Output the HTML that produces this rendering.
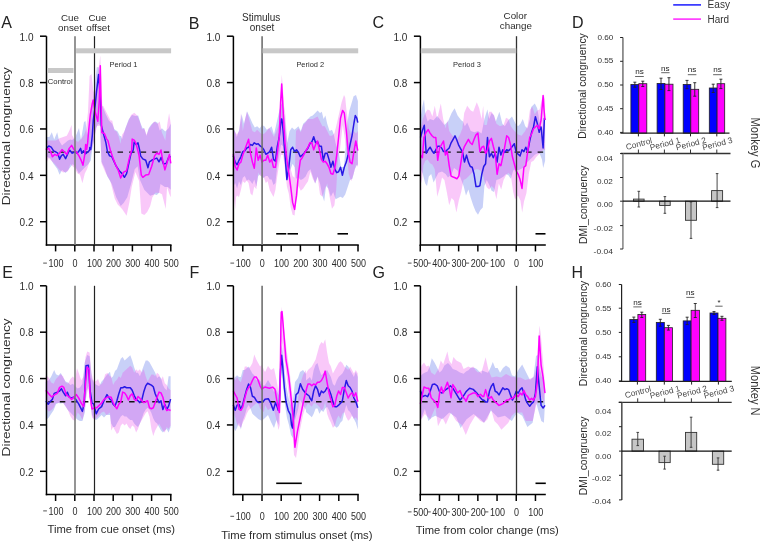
<!DOCTYPE html>
<html><head><meta charset="utf-8"><style>html,body{margin:0;padding:0;background:#fff;}svg{display:block;will-change:transform;}</style></head>
<body><svg width="760" height="542" viewBox="0 0 760 542" font-family='"Liberation Sans", sans-serif'>
<rect width="760" height="542" fill="#fff"/>
<path d="M46.0,138.2 L47.0,137.0 L49.4,137.0 L51.8,132.2 L54.2,139.4 L57.2,132.2 L59.0,140.6 L62.0,145.4 L65.0,143.0 L68.0,140.6 L70.4,139.4 L72.0,140.0 L75.0,138.0 L79.0,128.0 L81.0,140.0 L84.0,122.0 L85.5,121.0 L87.0,135.0 L89.0,128.0 L91.0,110.0 L93.0,100.0 L96.8,67.3 L98.8,67.3 L100.5,90.0 L102.2,105.5 L105.5,113.8 L108.8,120.4 L112.2,123.8 L114.4,129.3 L117.7,131.5 L119.9,135.9 L121.0,135.9 L122.1,139.2 L125.4,128.2 L128.8,119.3 L132.1,114.9 L135.4,116.0 L138.2,115.5 L140.4,122.7 L142.6,128.2 L144.2,128.2 L146.5,135.9 L148.7,128.2 L150.9,124.9 L153.1,122.7 L155.3,121.5 L157.5,122.7 L159.7,130.4 L161.9,128.2 L165.3,131.5 L168.6,128.2 L170.8,123.8 L170.8,189.8 L167.9,186.9 L164.9,186.9 L160.5,183.9 L159.0,192.8 L156.8,195.0 L154.6,194.3 L150.2,195.7 L144.3,189.8 L139.8,179.5 L137.6,166.2 L134.7,169.2 L131.0,183.9 L127.3,197.2 L123.6,203.1 L120.7,206.1 L116.2,197.2 L111.8,183.9 L107.4,176.6 L104.4,167.7 L101.5,161.8 L100.0,125.0 L98.0,124.0 L96.0,128.0 L94.0,140.0 L92.0,150.0 L90.8,160.4 L88.4,164.0 L84.8,167.6 L81.2,171.2 L78.8,173.6 L76.4,168.8 L72.8,164.0 L69.2,168.8 L65.6,173.0 L62.0,170.0 L59.6,174.8 L57.2,168.8 L53.6,164.0 L50.0,158.0 L46.4,156.8 L46.0,158.0Z" fill="rgb(72,98,232)" fill-opacity="0.3"/>
<path d="M46.0,140.6 L47.0,140.6 L51.2,140.6 L56.0,140.6 L59.6,138.2 L63.2,137.0 L66.8,135.8 L69.2,131.0 L71.6,125.0 L72.0,135.0 L75.0,140.0 L78.0,142.0 L80.0,140.0 L82.0,138.0 L84.0,135.0 L86.0,130.0 L88.0,112.0 L89.6,76.0 L91.5,74.0 L93.2,90.0 L95.0,95.0 L97.0,80.0 L100.3,55.6 L101.5,85.0 L102.3,106.0 L103.3,106.1 L105.5,110.5 L108.8,117.1 L110.5,120.4 L112.2,120.4 L114.4,130.4 L116.6,131.5 L118.8,137.0 L120.5,143.7 L122.1,134.8 L124.3,131.5 L127.7,122.7 L131.0,114.9 L134.3,112.7 L137.6,116.0 L139.8,121.5 L142.0,129.3 L144.2,128.2 L146.5,134.8 L148.7,129.3 L150.9,126.0 L154.2,121.5 L157.5,123.8 L159.7,121.5 L161.9,132.6 L165.3,140.4 L167.5,122.7 L169.1,113.3 L170.8,123.8 L170.8,197.2 L169.4,194.3 L167.1,186.9 L165.7,209.0 L164.2,203.1 L162.0,194.3 L159.0,192.8 L155.3,192.8 L152.4,197.2 L150.2,206.1 L147.2,212.0 L144.3,214.9 L141.3,213.5 L139.1,181.0 L135.4,172.1 L131.7,186.9 L129.5,201.7 L126.6,215.7 L125.1,213.5 L122.1,209.0 L117.7,204.6 L114.8,198.7 L110.3,181.0 L105.9,173.6 L101.5,163.3 L100.0,126.0 L97.0,126.0 L95.0,135.0 L93.0,145.0 L90.0,155.0 L89.6,161.6 L87.2,168.8 L84.8,173.6 L82.4,183.2 L80.0,174.8 L77.6,173.6 L74.0,167.6 L70.4,164.0 L68.0,171.2 L63.2,172.4 L59.6,170.0 L54.8,164.0 L51.2,160.4 L48.8,158.0 L46.4,162.8 L46.0,164.0Z" fill="rgb(235,72,235)" fill-opacity="0.3"/>
<line x1="46.50" y1="152.15" x2="170.80" y2="152.15" stroke="#111" stroke-width="1.4" stroke-dasharray="5.5,6.05" stroke-dashoffset="-1.75"/>
<path d="M46.0,148.6 L46.4,148.4 L48.8,146.0 L51.2,147.2 L53.6,150.8 L56.0,152.0 L57.8,153.2 L59.6,159.2 L61.4,155.6 L63.2,154.4 L65.6,158.6 L68.0,153.2 L69.8,150.2 L72.2,153.2 L74.6,152.0 L77.0,153.2 L78.8,151.4 L80.6,148.4 L81.8,153.2 L83.6,150.8 L85.4,153.8 L87.8,152.0 L89.6,150.2 L89.8,147.5 L90.8,149.5 L92.3,135.3 L93.3,120.1 L94.7,110.0 L96.5,92.0 L98.6,74.4 L99.8,90.0 L100.8,110.0 L101.3,125.4 L103.4,133.5 L105.9,142.6 L107.4,151.5 L109.6,155.9 L111.8,156.6 L116.2,166.2 L119.2,170.7 L122.1,173.6 L124.4,177.3 L126.6,173.6 L128.8,163.3 L131.0,153.7 L133.2,150.0 L134.2,141.9 L136.1,144.7 L138.0,142.8 L139.9,151.1 L140.6,155.9 L142.8,158.9 L145.7,160.3 L148.0,167.7 L149.4,161.8 L151.7,160.3 L154.6,158.9 L156.8,158.1 L159.0,161.8 L161.2,157.4 L163.5,164.0 L166.4,163.3 L168.6,157.4 L170.8,156.6" fill="none" stroke="#2818e6" stroke-width="1.5" stroke-linejoin="round"/>
<path d="M46.0,150.2 L46.4,149.6 L48.8,148.4 L51.2,153.2 L52.4,156.8 L54.8,154.4 L57.2,155.6 L59.6,153.2 L62.0,149.6 L64.4,152.0 L66.8,154.4 L69.2,148.4 L71.6,145.4 L74.0,149.6 L76.4,152.0 L78.8,155.6 L81.2,160.4 L83.0,165.2 L84.8,154.4 L85.7,144.4 L86.7,149.5 L87.7,142.4 L88.7,130.2 L90.3,115.0 L92.2,104.0 L93.2,100.0 L95.2,112.0 L97.8,121.3 L99.3,100.0 L100.3,65.7 L101.0,100.0 L101.8,132.5 L104.4,133.5 L106.4,138.6 L107.9,140.6 L110.3,150.0 L113.3,158.9 L116.2,166.2 L118.4,170.7 L120.7,178.0 L123.6,172.1 L126.6,170.7 L129.5,157.4 L131.7,150.0 L132.2,139.1 L134.2,140.1 L136.1,143.7 L138.0,151.1 L139.1,155.9 L141.3,175.1 L142.8,177.3 L145.7,175.1 L148.7,174.4 L151.7,166.2 L154.6,155.9 L156.8,153.0 L159.0,154.4 L161.0,150.0 L162.7,160.3 L164.9,169.9 L167.1,162.5 L169.4,154.4 L170.8,163.3" fill="none" stroke="#ff00ff" stroke-width="1.5" stroke-linejoin="round"/>
<line x1="46.50" y1="36.20" x2="46.50" y2="245.66" stroke="#000" stroke-width="1.5" />
<line x1="45.75" y1="244.91" x2="171.55" y2="244.91" stroke="#000" stroke-width="1.5" />
<line x1="40.00" y1="36.20" x2="46.50" y2="36.20" stroke="#000" stroke-width="1.5" />
<text x="33.50" y="40.50" font-size="10" text-anchor="end" fill="#2c2c2c" >1.0</text>
<line x1="40.00" y1="82.58" x2="46.50" y2="82.58" stroke="#000" stroke-width="1.5" />
<text x="33.50" y="86.88" font-size="10" text-anchor="end" fill="#2c2c2c" >0.8</text>
<line x1="40.00" y1="128.96" x2="46.50" y2="128.96" stroke="#000" stroke-width="1.5" />
<text x="33.50" y="133.26" font-size="10" text-anchor="end" fill="#2c2c2c" >0.6</text>
<line x1="40.00" y1="175.34" x2="46.50" y2="175.34" stroke="#000" stroke-width="1.5" />
<text x="33.50" y="179.64" font-size="10" text-anchor="end" fill="#2c2c2c" >0.4</text>
<line x1="40.00" y1="221.72" x2="46.50" y2="221.72" stroke="#000" stroke-width="1.5" />
<text x="33.50" y="226.02" font-size="10" text-anchor="end" fill="#2c2c2c" >0.2</text>
<line x1="55.60" y1="244.91" x2="55.60" y2="251.41" stroke="#000" stroke-width="1.5" />
<line x1="74.80" y1="244.91" x2="74.80" y2="251.41" stroke="#000" stroke-width="1.5" />
<line x1="94.00" y1="244.91" x2="94.00" y2="251.41" stroke="#000" stroke-width="1.5" />
<line x1="113.20" y1="244.91" x2="113.20" y2="251.41" stroke="#000" stroke-width="1.5" />
<line x1="132.40" y1="244.91" x2="132.40" y2="251.41" stroke="#000" stroke-width="1.5" />
<line x1="151.60" y1="244.91" x2="151.60" y2="251.41" stroke="#000" stroke-width="1.5" />
<line x1="170.80" y1="244.91" x2="170.80" y2="251.41" stroke="#000" stroke-width="1.5" />
<path d="M233.2,131.0 L234.4,129.8 L236.8,137.0 L239.2,129.8 L241.6,114.2 L244.0,123.8 L247.0,111.2 L250.0,117.8 L252.4,123.2 L254.8,127.4 L257.2,126.2 L259.6,128.6 L262.0,125.0 L264.4,126.2 L266.8,129.8 L269.2,128.6 L271.6,126.2 L274.0,134.6 L276.4,123.8 L278.8,113.0 L280.6,105.8 L282.4,102.2 L284.8,119.0 L287.2,143.0 L289.6,131.0 L292.0,127.4 L294.4,129.8 L296.0,128.6 L298.4,126.2 L300.8,131.0 L303.2,123.8 L305.6,121.4 L308.0,119.0 L310.4,116.6 L312.8,115.4 L315.2,113.0 L317.6,110.6 L320.0,113.0 L321.8,111.8 L323.6,119.0 L325.4,115.4 L327.2,123.8 L329.6,131.0 L332.0,129.8 L333.8,134.6 L335.6,143.0 L337.4,149.0 L339.2,155.0 L341.0,167.0 L344.0,167.0 L345.8,143.0 L347.6,121.4 L349.4,110.6 L351.2,104.6 L353.6,96.2 L356.0,95.0 L357.9,101.0 L357.9,165.6 L357.2,164.4 L354.8,169.2 L352.4,178.8 L350.0,180.0 L347.6,187.2 L345.2,194.4 L342.8,198.0 L340.4,196.8 L338.0,198.0 L335.6,199.2 L333.2,192.0 L330.8,196.8 L328.4,188.4 L326.0,186.0 L324.2,201.6 L322.4,195.6 L320.0,183.6 L317.6,176.4 L315.2,183.6 L312.8,176.4 L310.4,169.2 L308.0,171.6 L305.6,176.4 L303.2,178.8 L300.8,180.0 L298.4,177.6 L296.0,178.8 L294.6,167.3 L292.6,163.8 L290.7,169.1 L288.8,172.6 L286.9,177.8 L285.0,160.3 L283.1,146.3 L281.1,144.5 L279.2,155.1 L277.3,165.6 L275.4,183.1 L273.5,184.9 L271.6,179.6 L269.7,179.6 L267.7,176.1 L265.8,176.1 L263.9,177.8 L262.0,177.8 L260.1,174.3 L258.2,176.1 L256.3,186.6 L254.3,179.6 L252.4,184.0 L250.5,181.3 L248.6,179.6 L246.7,180.5 L244.8,176.1 L242.8,177.8 L240.9,184.9 L239.0,181.3 L237.1,188.4 L235.2,183.1 L233.3,186.6Z" fill="rgb(72,98,232)" fill-opacity="0.3"/>
<path d="M233.2,132.2 L234.4,131.0 L236.8,134.6 L239.2,131.0 L241.0,113.0 L242.8,131.0 L245.2,119.0 L247.0,111.8 L250.0,122.6 L252.4,131.0 L254.8,132.2 L257.2,129.8 L259.6,132.2 L262.0,134.6 L264.4,133.4 L266.8,131.0 L269.2,127.4 L271.6,132.2 L274.0,137.0 L276.4,131.0 L278.8,125.0 L280.0,107.0 L280.8,95.0 L281.7,74.4 L282.7,84.9 L284.0,106.0 L285.0,111.2 L286.9,135.8 L288.8,155.1 L290.7,169.1 L292.6,176.1 L294.6,177.8 L296.0,131.0 L298.4,128.6 L300.8,132.2 L303.2,125.0 L305.6,122.6 L308.0,119.0 L310.4,119.0 L312.8,119.0 L315.2,117.8 L317.6,116.6 L320.0,121.4 L322.4,126.2 L324.8,126.2 L327.2,131.0 L329.6,135.8 L332.0,135.8 L334.4,133.4 L336.8,123.8 L339.2,113.0 L341.6,102.2 L344.0,95.0 L345.2,97.4 L346.4,109.4 L348.8,128.6 L351.2,134.6 L353.6,131.0 L356.0,133.4 L357.9,131.0 L357.9,166.8 L356.0,164.4 L353.6,174.0 L351.2,181.2 L348.8,174.0 L347.6,162.0 L346.4,149.0 L344.0,133.4 L342.8,125.0 L341.6,134.6 L339.8,151.4 L338.6,154.8 L337.4,168.0 L336.2,189.6 L334.4,205.2 L332.0,208.8 L329.6,196.8 L327.2,183.6 L324.8,189.6 L322.4,196.8 L320.0,194.4 L317.6,176.4 L315.2,183.6 L312.8,178.8 L310.4,171.6 L308.0,181.2 L305.6,184.8 L303.2,188.4 L300.8,190.8 L298.4,186.0 L297.2,198.0 L296.0,200.4 L294.6,215.5 L292.6,214.7 L290.7,207.6 L288.8,193.6 L286.9,186.6 L285.0,169.1 L283.1,155.1 L281.1,155.1 L279.2,163.8 L277.3,176.1 L275.4,190.1 L273.5,197.1 L271.6,193.6 L269.7,190.1 L267.7,181.3 L265.8,183.1 L263.9,177.8 L262.0,176.1 L260.1,176.1 L258.2,172.6 L256.3,189.2 L254.3,186.6 L252.4,195.4 L250.5,193.6 L248.6,183.1 L246.7,180.5 L244.8,183.1 L242.8,181.3 L240.9,190.1 L239.0,197.1 L237.1,195.4 L236.1,197.1 L235.2,209.4 L234.2,200.6 L233.3,193.6Z" fill="rgb(235,72,235)" fill-opacity="0.3"/>
<line x1="233.40" y1="152.15" x2="358.00" y2="152.15" stroke="#111" stroke-width="1.4" stroke-dasharray="5.5,6.05" stroke-dashoffset="-1.75"/>
<path d="M233.3,155.9 L235.2,162.1 L237.1,164.7 L239.0,160.3 L240.9,156.8 L242.8,151.6 L244.8,150.7 L246.7,148.0 L248.6,147.2 L250.5,144.5 L252.4,145.4 L254.3,142.8 L256.3,144.2 L258.2,143.7 L260.1,145.9 L262.0,147.2 L263.9,149.8 L265.8,154.2 L267.7,153.3 L269.7,151.6 L271.6,147.2 L273.5,159.4 L275.4,161.2 L277.3,146.3 L279.2,137.5 L281.1,119.1 L281.9,119.1 L283.1,130.5 L285.0,155.1 L286.9,179.6 L288.8,167.3 L290.7,149.8 L292.6,147.2 L294.6,151.6 L296.5,149.8 L298.4,152.4 L300.3,156.8 L302.2,155.1 L304.1,153.3 L306.0,150.7 L308.0,148.0 L309.9,143.7 L311.8,141.9 L313.7,136.7 L315.6,142.8 L317.5,141.9 L319.4,146.3 L321.4,146.3 L323.3,160.3 L325.2,153.3 L327.1,153.3 L329.0,159.4 L330.9,167.3 L332.9,161.2 L334.8,169.1 L336.7,172.6 L338.6,171.7 L340.5,167.3 L342.4,175.2 L344.3,167.3 L346.3,162.1 L348.2,154.2 L350.1,144.5 L352.0,135.8 L353.9,123.5 L355.3,115.6 L356.8,118.2 L357.8,122.6" fill="none" stroke="#2818e6" stroke-width="1.5" stroke-linejoin="round"/>
<path d="M233.3,154.2 L235.2,166.5 L237.1,170.0 L239.0,163.8 L240.9,162.1 L242.8,155.1 L244.8,149.8 L246.7,144.5 L248.6,139.3 L250.5,153.3 L252.4,162.1 L254.3,168.2 L256.3,148.0 L258.2,160.3 L260.1,155.1 L262.0,162.1 L263.9,160.3 L265.8,160.3 L267.7,155.1 L269.7,162.1 L271.6,159.4 L273.5,167.3 L275.4,167.3 L277.3,153.3 L279.2,137.5 L280.6,102.5 L281.7,84.1 L282.7,102.5 L284.0,127.0 L285.0,142.8 L286.9,160.3 L288.8,172.6 L290.7,186.6 L292.6,202.4 L294.6,209.4 L296.5,195.4 L298.4,174.3 L300.3,160.3 L302.2,157.7 L304.1,154.2 L306.0,150.7 L308.0,147.2 L309.9,142.8 L311.8,142.8 L313.7,149.8 L315.6,144.5 L317.5,141.0 L319.4,149.8 L321.4,159.4 L323.3,162.1 L325.2,161.2 L327.1,163.8 L329.0,167.3 L330.9,173.5 L332.9,174.3 L334.8,168.2 L336.7,155.1 L338.6,137.5 L340.5,118.2 L342.6,110.4 L344.3,113.0 L346.3,130.5 L348.2,151.6 L350.1,162.1 L352.0,163.8 L353.9,151.6 L355.8,141.0 L357.8,150.7" fill="none" stroke="#ff00ff" stroke-width="1.5" stroke-linejoin="round"/>
<line x1="233.40" y1="36.20" x2="233.40" y2="245.66" stroke="#000" stroke-width="1.5" />
<line x1="232.65" y1="244.91" x2="358.75" y2="244.91" stroke="#000" stroke-width="1.5" />
<line x1="226.90" y1="36.20" x2="233.40" y2="36.20" stroke="#000" stroke-width="1.5" />
<text x="220.40" y="40.50" font-size="10" text-anchor="end" fill="#2c2c2c" >1.0</text>
<line x1="226.90" y1="82.58" x2="233.40" y2="82.58" stroke="#000" stroke-width="1.5" />
<text x="220.40" y="86.88" font-size="10" text-anchor="end" fill="#2c2c2c" >0.8</text>
<line x1="226.90" y1="128.96" x2="233.40" y2="128.96" stroke="#000" stroke-width="1.5" />
<text x="220.40" y="133.26" font-size="10" text-anchor="end" fill="#2c2c2c" >0.6</text>
<line x1="226.90" y1="175.34" x2="233.40" y2="175.34" stroke="#000" stroke-width="1.5" />
<text x="220.40" y="179.64" font-size="10" text-anchor="end" fill="#2c2c2c" >0.4</text>
<line x1="226.90" y1="221.72" x2="233.40" y2="221.72" stroke="#000" stroke-width="1.5" />
<text x="220.40" y="226.02" font-size="10" text-anchor="end" fill="#2c2c2c" >0.2</text>
<line x1="242.80" y1="244.91" x2="242.80" y2="251.41" stroke="#000" stroke-width="1.5" />
<line x1="262.00" y1="244.91" x2="262.00" y2="251.41" stroke="#000" stroke-width="1.5" />
<line x1="281.20" y1="244.91" x2="281.20" y2="251.41" stroke="#000" stroke-width="1.5" />
<line x1="300.40" y1="244.91" x2="300.40" y2="251.41" stroke="#000" stroke-width="1.5" />
<line x1="319.60" y1="244.91" x2="319.60" y2="251.41" stroke="#000" stroke-width="1.5" />
<line x1="338.80" y1="244.91" x2="338.80" y2="251.41" stroke="#000" stroke-width="1.5" />
<line x1="358.00" y1="244.91" x2="358.00" y2="251.41" stroke="#000" stroke-width="1.5" />
<path d="M420.4,119.0 L422.2,107.0 L424.0,99.2 L425.2,113.0 L427.6,121.4 L430.0,119.0 L433.6,120.2 L437.2,116.0 L440.8,120.2 L444.4,125.0 L448.0,121.4 L451.6,113.0 L454.6,108.2 L457.6,115.4 L461.2,120.2 L463.0,121.4 L464.8,126.2 L467.2,122.6 L470.8,131.0 L474.4,132.2 L478.0,131.0 L481.6,133.4 L484.4,119.0 L487.4,109.4 L489.2,119.0 L491.6,113.0 L494.0,115.4 L495.8,121.4 L499.4,111.8 L502.4,123.8 L504.8,126.2 L508.4,120.2 L512.0,116.6 L515.6,123.8 L518.0,126.2 L520.4,123.8 L522.8,119.0 L525.2,126.2 L527.6,128.6 L530.0,119.0 L531.2,107.0 L534.8,103.4 L537.2,108.2 L539.6,121.4 L542.0,131.0 L544.4,119.0 L545.1,121.4 L545.1,160.8 L543.2,168.0 L542.0,159.6 L539.6,153.6 L537.2,153.6 L534.8,154.8 L532.4,157.2 L530.0,159.6 L527.6,162.0 L525.2,165.6 L522.8,168.0 L520.4,169.2 L518.0,170.4 L515.6,169.2 L513.2,170.4 L510.8,178.8 L508.4,175.2 L506.0,174.0 L503.6,176.4 L500.0,178.8 L496.4,180.0 L494.0,192.0 L491.6,190.8 L489.2,184.8 L486.8,180.0 L484.4,186.0 L482.8,207.6 L480.4,210.0 L478.0,214.8 L475.6,211.2 L473.2,205.2 L470.8,198.0 L468.4,189.6 L466.0,195.6 L463.6,186.0 L460.0,176.4 L457.6,170.4 L454.0,168.0 L451.6,174.0 L448.0,177.6 L445.6,174.0 L442.0,171.6 L438.4,172.8 L436.0,177.6 L433.6,182.4 L431.2,174.0 L428.8,176.4 L427.0,186.0 L425.2,183.6 L422.8,174.0 L420.4,168.0Z" fill="rgb(72,98,232)" fill-opacity="0.3"/>
<path d="M420.4,131.0 L422.8,119.0 L425.2,113.0 L427.6,109.4 L430.0,110.6 L432.4,116.6 L434.8,105.8 L437.2,119.0 L440.8,103.4 L443.2,119.0 L445.6,128.6 L447.4,120.2 L449.2,131.0 L451.6,134.6 L456.4,140.6 L460.0,134.6 L462.4,128.6 L464.2,113.0 L467.2,105.8 L470.8,110.6 L473.2,111.8 L476.8,102.2 L479.2,108.2 L481.6,119.0 L483.2,105.8 L484.4,125.0 L486.8,125.0 L489.2,111.8 L491.6,111.8 L494.0,115.4 L496.4,123.8 L500.0,126.2 L503.6,125.0 L506.0,117.8 L508.4,119.0 L510.8,126.2 L514.4,131.0 L518.0,134.6 L521.6,135.8 L525.2,131.0 L527.6,126.2 L530.0,109.4 L532.4,107.0 L534.8,114.2 L537.2,110.6 L539.6,109.4 L542.0,98.6 L543.8,95.0 L545.1,99.8 L545.1,150.0 L543.2,150.0 L540.8,152.4 L538.4,154.8 L536.0,157.2 L533.6,160.8 L531.2,162.0 L528.8,174.0 L526.4,193.2 L524.0,201.6 L522.2,212.4 L520.4,200.4 L518.0,195.6 L515.0,199.2 L513.2,192.0 L510.8,175.2 L508.4,172.8 L506.0,175.2 L503.6,180.0 L501.2,189.6 L498.8,183.6 L496.4,199.2 L494.0,188.4 L491.6,186.0 L489.2,189.6 L486.8,187.2 L484.4,181.2 L482.8,174.0 L480.4,170.4 L478.0,169.2 L475.6,169.2 L473.2,171.6 L470.8,174.0 L468.4,176.4 L466.0,178.8 L463.6,180.0 L461.2,192.0 L458.8,200.4 L456.4,212.4 L454.0,200.4 L451.6,198.0 L449.2,205.2 L446.8,192.0 L444.4,180.0 L442.0,177.6 L439.6,188.4 L437.2,196.8 L434.8,169.2 L432.4,164.4 L430.0,163.2 L427.6,159.6 L425.2,160.8 L423.4,165.6 L421.6,183.6 L420.4,174.0Z" fill="rgb(235,72,235)" fill-opacity="0.3"/>
<line x1="420.40" y1="152.15" x2="545.05" y2="152.15" stroke="#111" stroke-width="1.4" stroke-dasharray="5.5,6.05" stroke-dashoffset="-1.75"/>
<path d="M420.5,137.5 L422.4,130.5 L424.3,125.3 L426.2,153.3 L428.2,149.8 L430.1,147.2 L432.0,150.7 L433.9,153.3 L435.8,149.8 L437.7,146.3 L439.6,146.3 L441.6,148.0 L443.5,151.6 L445.4,151.6 L447.3,149.8 L449.2,148.0 L451.1,142.8 L453.1,139.3 L455.0,135.8 L456.9,140.2 L458.8,145.4 L460.7,148.9 L462.6,152.4 L464.5,162.1 L466.5,155.1 L468.4,162.1 L470.3,166.5 L472.2,167.3 L474.1,174.3 L476.0,186.6 L477.9,186.6 L479.9,185.7 L481.8,174.3 L483.7,166.5 L485.6,163.8 L487.5,137.5 L489.4,156.8 L491.4,153.3 L493.3,157.7 L495.2,153.3 L497.1,162.1 L499.0,147.2 L500.9,155.1 L502.8,149.8 L504.8,152.4 L506.7,149.8 L508.6,150.7 L510.5,148.9 L512.4,146.3 L514.3,143.7 L516.2,152.4 L518.2,154.2 L520.1,155.9 L522.0,149.8 L523.9,151.6 L525.8,147.2 L527.7,151.6 L529.7,141.0 L531.6,132.3 L533.5,127.0 L535.4,116.7 L537.3,123.5 L539.2,132.3 L540.2,127.0 L541.1,127.0 L543.1,148.0 L544.4,118.2 L545.0,120.0" fill="none" stroke="#2818e6" stroke-width="1.5" stroke-linejoin="round"/>
<path d="M420.5,155.1 L422.4,157.7 L423.9,137.5 L426.2,132.3 L428.2,129.6 L430.1,133.1 L432.0,135.8 L433.9,137.5 L435.8,137.5 L437.7,160.3 L439.6,148.0 L441.6,144.5 L443.5,141.0 L445.4,155.1 L447.3,151.6 L449.2,165.6 L451.1,176.1 L453.1,177.0 L455.0,177.8 L456.9,178.7 L458.8,176.1 L460.7,163.8 L462.6,151.6 L464.5,146.3 L466.5,142.8 L468.4,139.3 L470.3,142.8 L472.2,144.5 L474.1,139.3 L476.0,134.9 L477.9,133.1 L479.9,151.6 L481.8,147.2 L483.7,146.3 L485.6,153.3 L487.5,149.8 L489.4,141.0 L491.4,138.4 L493.3,146.3 L495.2,153.3 L497.1,174.3 L499.0,163.8 L500.9,165.6 L502.8,156.8 L504.8,146.3 L506.7,135.8 L508.6,137.5 L510.5,144.5 L512.4,156.8 L514.3,163.8 L516.2,170.8 L518.2,174.3 L520.1,179.6 L522.0,188.4 L523.9,167.3 L525.8,165.6 L527.7,151.6 L529.7,137.5 L531.6,134.0 L533.5,128.8 L535.4,127.0 L537.3,125.3 L539.2,128.8 L541.1,120.0 L543.1,95.6 L544.0,109.5 L545.0,120.0" fill="none" stroke="#ff00ff" stroke-width="1.5" stroke-linejoin="round"/>
<line x1="420.40" y1="36.20" x2="420.40" y2="245.66" stroke="#000" stroke-width="1.5" />
<line x1="419.65" y1="244.91" x2="545.80" y2="244.91" stroke="#000" stroke-width="1.5" />
<line x1="413.90" y1="36.20" x2="420.40" y2="36.20" stroke="#000" stroke-width="1.5" />
<text x="407.40" y="40.50" font-size="10" text-anchor="end" fill="#2c2c2c" >1.0</text>
<line x1="413.90" y1="82.58" x2="420.40" y2="82.58" stroke="#000" stroke-width="1.5" />
<text x="407.40" y="86.88" font-size="10" text-anchor="end" fill="#2c2c2c" >0.8</text>
<line x1="413.90" y1="128.96" x2="420.40" y2="128.96" stroke="#000" stroke-width="1.5" />
<text x="407.40" y="133.26" font-size="10" text-anchor="end" fill="#2c2c2c" >0.6</text>
<line x1="413.90" y1="175.34" x2="420.40" y2="175.34" stroke="#000" stroke-width="1.5" />
<text x="407.40" y="179.64" font-size="10" text-anchor="end" fill="#2c2c2c" >0.4</text>
<line x1="413.90" y1="221.72" x2="420.40" y2="221.72" stroke="#000" stroke-width="1.5" />
<text x="407.40" y="226.02" font-size="10" text-anchor="end" fill="#2c2c2c" >0.2</text>
<line x1="420.25" y1="244.91" x2="420.25" y2="251.41" stroke="#000" stroke-width="1.5" />
<line x1="439.45" y1="244.91" x2="439.45" y2="251.41" stroke="#000" stroke-width="1.5" />
<line x1="458.65" y1="244.91" x2="458.65" y2="251.41" stroke="#000" stroke-width="1.5" />
<line x1="477.85" y1="244.91" x2="477.85" y2="251.41" stroke="#000" stroke-width="1.5" />
<line x1="497.05" y1="244.91" x2="497.05" y2="251.41" stroke="#000" stroke-width="1.5" />
<line x1="516.25" y1="244.91" x2="516.25" y2="251.41" stroke="#000" stroke-width="1.5" />
<line x1="535.45" y1="244.91" x2="535.45" y2="251.41" stroke="#000" stroke-width="1.5" />
<path d="M45.7,382.0 L46.4,381.4 L48.8,380.2 L51.2,376.6 L54.2,370.0 L56.0,374.2 L58.4,375.4 L60.8,373.0 L63.2,377.8 L65.6,381.4 L68.0,382.6 L70.4,385.0 L72.8,383.8 L75.2,386.2 L77.6,388.6 L80.0,387.4 L82.4,383.8 L84.8,362.2 L87.2,355.0 L89.6,356.2 L92.0,379.0 L94.4,383.8 L96.8,385.0 L99.2,386.2 L101.6,381.4 L104.0,379.0 L106.4,375.4 L110.0,371.8 L111.2,378.0 L113.1,376.3 L115.0,371.0 L116.9,369.3 L118.8,364.0 L120.8,358.8 L122.7,357.0 L124.6,360.5 L126.5,358.8 L128.4,357.0 L130.3,355.3 L132.2,360.5 L134.2,367.5 L136.1,372.8 L138.0,372.8 L139.9,376.3 L141.8,371.0 L143.7,365.8 L145.7,360.5 L147.6,360.5 L149.5,362.3 L151.4,365.8 L153.3,369.3 L155.2,372.8 L157.1,378.0 L159.1,376.3 L161.0,378.0 L162.9,385.1 L164.8,388.6 L166.7,390.3 L168.6,376.3 L170.6,376.3 L170.6,427.1 L168.6,432.4 L166.7,428.9 L164.8,430.6 L162.9,432.4 L161.0,430.6 L159.1,427.1 L157.1,423.6 L155.2,421.9 L153.3,418.4 L151.4,413.1 L149.5,409.6 L147.6,407.8 L145.7,409.6 L143.7,413.1 L141.8,418.4 L139.9,423.6 L138.0,427.1 L136.1,425.4 L134.2,423.6 L132.2,420.1 L130.3,420.1 L128.4,418.4 L126.5,416.6 L124.6,416.6 L122.7,414.9 L120.8,416.6 L118.8,420.1 L116.9,423.6 L115.0,427.1 L113.1,427.1 L111.2,423.6 L110.0,415.0 L106.4,415.0 L104.0,417.4 L101.6,415.0 L99.2,417.4 L96.8,419.8 L94.4,419.8 L92.0,415.0 L90.2,400.6 L88.4,386.2 L86.6,391.0 L84.8,412.6 L82.4,421.0 L80.0,421.0 L77.6,419.8 L75.2,417.4 L72.8,415.0 L70.4,412.6 L68.0,410.2 L65.6,406.6 L63.2,403.0 L60.8,403.6 L58.4,403.0 L56.0,404.2 L53.6,410.2 L51.2,413.8 L48.8,417.4 L46.4,419.8 L45.7,419.8Z" fill="rgb(72,98,232)" fill-opacity="0.3"/>
<path d="M45.7,376.0 L46.4,375.4 L48.8,377.8 L51.2,382.6 L53.6,383.8 L56.0,379.0 L58.4,376.6 L60.8,374.2 L63.2,376.6 L65.6,382.6 L68.0,383.8 L70.4,379.0 L72.8,376.6 L75.2,379.0 L77.0,368.2 L78.8,373.0 L81.2,380.2 L83.6,376.6 L85.4,357.4 L87.2,351.4 L89.6,352.6 L91.4,373.0 L93.2,380.2 L95.6,381.4 L98.0,379.0 L100.4,385.0 L102.8,382.6 L105.2,374.2 L107.6,373.0 L110.0,376.6 L111.2,376.3 L113.1,385.1 L115.0,381.6 L116.9,379.8 L118.8,376.3 L120.8,378.0 L122.7,372.8 L124.6,371.0 L126.5,369.3 L128.4,367.5 L130.3,365.8 L132.2,367.5 L134.2,372.8 L136.1,369.3 L138.0,371.0 L139.9,369.3 L141.8,372.8 L143.7,369.3 L145.7,376.3 L147.6,381.6 L149.5,378.0 L151.4,374.5 L153.3,374.5 L155.2,376.3 L157.1,372.8 L159.1,374.5 L161.0,379.8 L162.9,376.3 L164.8,383.3 L166.7,385.1 L168.6,388.6 L170.6,390.3 L170.6,425.4 L168.6,428.9 L166.7,427.1 L164.8,432.4 L162.9,430.6 L161.0,427.1 L159.1,423.6 L157.1,427.1 L155.2,430.6 L153.3,435.9 L151.4,428.9 L149.5,416.6 L147.6,411.3 L145.7,413.1 L143.7,416.6 L141.8,420.1 L139.9,423.6 L138.0,428.9 L136.1,432.4 L134.2,427.1 L132.2,425.4 L130.3,428.9 L128.4,427.1 L126.5,423.6 L124.6,425.4 L122.7,423.6 L120.8,425.4 L118.8,432.4 L116.9,434.1 L115.0,430.6 L113.1,427.1 L111.2,430.6 L110.0,412.6 L106.4,415.0 L104.0,411.4 L101.6,412.6 L99.2,415.0 L96.8,417.4 L94.4,419.8 L92.0,417.4 L90.2,403.0 L88.4,388.6 L86.6,394.6 L84.8,410.2 L82.4,419.8 L80.0,415.0 L77.6,412.6 L75.2,421.0 L72.8,419.8 L70.4,416.2 L68.0,410.2 L65.6,406.6 L63.2,403.0 L60.8,401.8 L58.4,403.0 L56.0,403.0 L53.6,407.8 L51.2,410.2 L48.8,411.4 L46.4,409.0 L45.7,409.0Z" fill="rgb(235,72,235)" fill-opacity="0.3"/>
<line x1="46.50" y1="401.75" x2="170.80" y2="401.75" stroke="#111" stroke-width="1.4" stroke-dasharray="5.5,6.05" stroke-dashoffset="-1.75"/>
<path d="M45.7,401.2 L46.4,401.8 L48.2,404.2 L50.0,401.8 L52.4,399.4 L54.2,393.4 L57.2,392.2 L59.6,391.0 L61.4,388.6 L63.2,392.2 L65.6,395.8 L67.4,392.2 L69.2,397.0 L71.6,398.2 L73.4,397.0 L75.8,399.4 L78.8,404.2 L82.4,411.4 L84.2,403.0 L86.0,365.8 L88.4,365.2 L90.2,391.0 L92.0,403.0 L93.8,404.2 L96.2,413.8 L98.6,409.0 L101.6,406.6 L104.0,400.6 L107.0,394.6 L110.0,399.4 L111.2,400.0 L113.1,404.3 L115.0,406.1 L116.9,400.8 L118.8,393.8 L120.8,387.7 L122.7,387.7 L124.6,386.8 L126.5,387.7 L128.4,387.7 L130.3,387.7 L132.2,390.3 L134.2,395.6 L136.1,399.1 L138.0,400.8 L139.9,402.6 L141.8,400.0 L143.7,392.1 L145.7,385.9 L147.6,383.3 L149.5,384.2 L151.4,385.1 L153.3,386.8 L155.2,393.8 L157.1,398.2 L159.1,402.6 L161.0,400.8 L162.9,409.6 L164.8,404.3 L166.7,409.6 L168.6,406.1 L170.6,399.1" fill="none" stroke="#2818e6" stroke-width="1.5" stroke-linejoin="round"/>
<path d="M45.7,390.4 L46.4,391.0 L49.4,394.6 L51.8,397.0 L54.8,394.6 L57.2,393.4 L59.6,387.4 L62.0,386.2 L63.8,387.4 L66.2,394.6 L69.2,397.0 L71.6,399.4 L74.0,397.0 L76.4,394.6 L78.8,398.2 L81.2,403.0 L83.6,406.6 L85.4,385.0 L87.2,367.0 L89.0,369.4 L90.2,397.0 L92.0,409.0 L94.4,407.8 L96.8,407.8 L99.2,405.4 L101.6,403.0 L104.0,399.4 L107.6,397.0 L110.0,397.0 L111.2,397.3 L113.1,402.6 L115.0,406.1 L116.9,408.7 L118.8,404.3 L120.8,401.7 L122.7,392.1 L124.6,392.9 L126.5,395.6 L128.4,400.0 L130.3,395.6 L132.2,393.8 L134.2,399.1 L136.1,400.8 L138.0,396.5 L139.9,398.2 L141.8,400.8 L143.7,402.6 L145.7,401.7 L147.6,400.8 L149.5,407.8 L151.4,408.7 L153.3,407.8 L155.2,402.6 L157.1,397.3 L159.1,392.1 L161.0,392.9 L162.9,397.3 L164.8,405.2 L166.7,410.5 L168.6,409.6 L170.6,410.5" fill="none" stroke="#ff00ff" stroke-width="1.5" stroke-linejoin="round"/>
<line x1="46.50" y1="285.80" x2="46.50" y2="495.26" stroke="#000" stroke-width="1.5" />
<line x1="45.75" y1="494.51" x2="171.55" y2="494.51" stroke="#000" stroke-width="1.5" />
<line x1="40.00" y1="285.80" x2="46.50" y2="285.80" stroke="#000" stroke-width="1.5" />
<text x="33.50" y="290.10" font-size="10" text-anchor="end" fill="#2c2c2c" >1.0</text>
<line x1="40.00" y1="332.18" x2="46.50" y2="332.18" stroke="#000" stroke-width="1.5" />
<text x="33.50" y="336.48" font-size="10" text-anchor="end" fill="#2c2c2c" >0.8</text>
<line x1="40.00" y1="378.56" x2="46.50" y2="378.56" stroke="#000" stroke-width="1.5" />
<text x="33.50" y="382.86" font-size="10" text-anchor="end" fill="#2c2c2c" >0.6</text>
<line x1="40.00" y1="424.94" x2="46.50" y2="424.94" stroke="#000" stroke-width="1.5" />
<text x="33.50" y="429.24" font-size="10" text-anchor="end" fill="#2c2c2c" >0.4</text>
<line x1="40.00" y1="471.32" x2="46.50" y2="471.32" stroke="#000" stroke-width="1.5" />
<text x="33.50" y="475.62" font-size="10" text-anchor="end" fill="#2c2c2c" >0.2</text>
<line x1="55.60" y1="494.51" x2="55.60" y2="501.01" stroke="#000" stroke-width="1.5" />
<line x1="74.80" y1="494.51" x2="74.80" y2="501.01" stroke="#000" stroke-width="1.5" />
<line x1="94.00" y1="494.51" x2="94.00" y2="501.01" stroke="#000" stroke-width="1.5" />
<line x1="113.20" y1="494.51" x2="113.20" y2="501.01" stroke="#000" stroke-width="1.5" />
<line x1="132.40" y1="494.51" x2="132.40" y2="501.01" stroke="#000" stroke-width="1.5" />
<line x1="151.60" y1="494.51" x2="151.60" y2="501.01" stroke="#000" stroke-width="1.5" />
<line x1="170.80" y1="494.51" x2="170.80" y2="501.01" stroke="#000" stroke-width="1.5" />
<path d="M233.3,380.5 L235.2,377.0 L237.1,375.3 L239.0,377.0 L240.9,377.0 L242.8,370.0 L244.8,370.0 L246.7,368.2 L248.6,366.5 L250.5,370.0 L252.4,373.5 L254.3,375.3 L256.3,380.5 L258.2,378.8 L260.1,380.5 L262.0,384.0 L263.9,385.8 L265.0,385.0 L268.0,380.0 L271.0,385.0 L274.0,392.0 L276.5,390.0 L278.5,395.0 L280.0,360.0 L281.6,345.0 L283.0,352.0 L285.0,375.0 L287.0,390.0 L289.0,400.0 L291.0,405.0 L293.0,400.0 L295.0,382.0 L298.0,378.0 L300.0,372.0 L303.0,370.0 L306.0,374.0 L306.0,380.5 L308.0,378.8 L309.9,377.0 L311.8,380.5 L313.7,370.0 L315.6,364.7 L317.5,363.0 L319.4,370.0 L321.4,375.3 L323.3,373.5 L325.2,371.8 L327.1,370.0 L329.0,373.5 L330.9,377.0 L332.9,384.0 L334.8,385.8 L336.7,380.5 L338.6,377.0 L340.5,375.3 L342.4,373.5 L344.3,370.0 L346.3,364.7 L348.2,366.5 L350.1,370.0 L352.0,373.5 L353.9,377.0 L355.8,371.8 L357.8,377.0 L357.8,429.6 L355.8,422.6 L353.9,419.1 L352.0,415.6 L350.1,412.1 L348.2,410.3 L346.3,405.1 L344.3,412.1 L342.4,420.8 L340.5,422.6 L338.6,426.1 L336.7,427.8 L334.8,426.1 L332.9,420.8 L330.9,415.6 L329.0,410.3 L327.1,406.8 L325.2,408.6 L323.3,412.1 L321.4,410.3 L319.4,413.8 L317.5,408.6 L315.6,408.6 L313.7,413.8 L311.8,417.3 L309.9,415.6 L308.0,413.8 L306.0,412.1 L306.0,410.0 L303.0,405.0 L300.0,400.0 L298.0,410.0 L295.0,420.0 L293.0,438.0 L291.0,435.0 L289.0,425.0 L287.0,418.0 L285.0,405.0 L283.0,385.0 L281.6,372.0 L280.0,400.0 L278.5,425.0 L276.5,420.0 L274.0,428.0 L271.0,422.0 L268.0,415.0 L265.0,418.0 L263.9,419.1 L262.0,420.8 L260.1,420.0 L258.2,419.1 L256.3,417.3 L254.3,415.6 L252.4,413.8 L250.5,408.6 L248.6,405.1 L246.7,408.6 L244.8,415.6 L242.8,420.8 L240.9,429.6 L239.0,422.6 L237.1,427.8 L235.2,431.3 L233.3,426.1Z" fill="rgb(72,98,232)" fill-opacity="0.3"/>
<path d="M233.3,373.5 L235.2,380.5 L237.1,377.0 L239.0,380.5 L240.9,382.3 L242.8,375.3 L244.8,366.5 L246.7,366.5 L248.6,368.2 L250.5,366.5 L252.4,363.0 L254.3,354.4 L256.3,359.5 L258.2,363.0 L260.1,366.5 L262.0,364.7 L263.9,370.0 L265.0,372.0 L268.0,366.0 L271.0,370.0 L274.0,368.0 L276.5,380.0 L278.5,392.0 L279.8,375.0 L280.5,330.0 L281.6,306.6 L283.0,320.0 L286.0,345.0 L288.0,360.0 L290.0,375.0 L292.0,392.0 L294.0,410.0 L296.0,410.0 L298.0,400.0 L300.0,385.0 L303.0,375.0 L306.0,370.0 L306.0,373.5 L308.0,370.0 L309.9,368.2 L311.8,366.5 L313.7,363.0 L315.6,359.5 L317.5,352.5 L319.4,345.5 L321.4,342.0 L323.3,343.7 L325.2,339.3 L327.1,352.5 L329.0,363.0 L330.9,366.5 L332.9,373.5 L334.8,370.0 L336.7,366.5 L338.6,363.0 L340.5,361.2 L342.4,363.0 L344.3,366.5 L346.3,368.2 L348.2,370.0 L350.1,366.5 L352.0,370.0 L353.9,373.5 L355.8,370.0 L357.8,373.5 L357.8,420.8 L355.8,417.3 L353.9,419.1 L352.0,415.6 L350.1,419.1 L348.2,420.8 L346.3,417.3 L344.3,412.1 L342.4,413.8 L340.5,419.1 L338.6,415.6 L336.7,419.1 L334.8,426.1 L332.9,427.8 L330.9,422.6 L329.0,419.1 L327.1,413.8 L325.2,401.6 L323.3,408.6 L321.4,410.3 L319.4,406.8 L317.5,405.1 L315.6,403.3 L313.7,403.3 L311.8,406.8 L309.9,405.1 L308.0,403.3 L306.0,406.8 L306.0,405.0 L303.0,415.0 L300.0,430.0 L298.0,445.0 L296.0,458.0 L294.0,455.0 L292.0,425.0 L290.0,405.0 L288.0,388.0 L286.0,372.0 L283.0,350.0 L281.6,340.0 L280.5,395.0 L279.8,425.0 L278.5,430.0 L276.5,420.0 L274.0,410.0 L271.0,408.0 L268.0,410.0 L265.0,405.0 L263.9,412.1 L262.0,410.3 L260.1,408.6 L258.2,403.3 L256.3,403.3 L254.3,405.1 L252.4,406.8 L250.5,408.6 L248.6,410.3 L246.7,413.8 L244.8,419.1 L242.8,422.6 L240.9,427.8 L239.0,426.1 L237.1,424.3 L235.2,417.3 L233.3,410.3Z" fill="rgb(235,72,235)" fill-opacity="0.3"/>
<line x1="233.40" y1="401.75" x2="358.00" y2="401.75" stroke="#111" stroke-width="1.4" stroke-dasharray="5.5,6.05" stroke-dashoffset="-1.75"/>
<path d="M233.3,405.1 L235.2,410.3 L237.1,405.1 L239.0,404.2 L240.9,409.4 L242.8,404.2 L244.8,396.3 L246.7,389.3 L248.6,384.0 L250.5,387.5 L252.4,396.3 L254.3,397.2 L256.3,400.7 L258.2,402.4 L260.1,402.4 L262.0,401.6 L263.9,400.7 L265.0,399.2 L268.3,398.7 L270.5,402.6 L273.3,410.3 L275.5,402.6 L277.2,407.0 L278.3,410.3 L279.4,402.6 L280.5,371.6 L281.6,355.2 L282.7,366.1 L284.4,388.2 L286.0,401.5 L288.2,410.3 L290.4,414.7 L291.5,425.0 L292.5,428.0 L293.5,418.0 L296.0,394.8 L298.2,392.6 L300.4,383.8 L302.6,389.3 L306.0,393.7 L309.2,396.0 L309.9,398.0 L311.8,400.7 L313.7,391.0 L315.6,385.8 L317.5,389.3 L319.4,396.3 L321.4,391.0 L323.3,392.8 L325.2,391.0 L327.1,387.5 L329.0,389.3 L330.9,394.5 L332.9,401.6 L334.8,406.8 L336.7,406.8 L338.6,405.1 L340.5,403.3 L342.4,400.7 L344.3,389.3 L346.3,380.5 L348.2,385.8 L350.1,387.5 L352.0,391.0 L353.9,398.0 L355.8,401.6 L357.8,407.7" fill="none" stroke="#2818e6" stroke-width="1.5" stroke-linejoin="round"/>
<path d="M233.3,391.0 L235.2,394.5 L237.1,398.0 L239.0,409.4 L240.9,410.3 L242.8,406.8 L244.8,398.0 L246.7,391.0 L248.6,387.5 L250.5,384.9 L252.4,380.5 L254.3,377.0 L256.3,377.0 L258.2,380.5 L260.1,385.8 L262.0,389.3 L263.9,387.5 L265.0,387.1 L269.4,388.2 L272.7,387.1 L275.0,389.3 L276.6,399.2 L278.3,408.1 L279.4,412.5 L279.9,393.7 L280.5,360.0 L280.9,325.0 L281.3,312.0 L282.0,311.5 L282.6,318.0 L286.0,360.0 L287.1,366.1 L288.8,377.1 L290.4,391.5 L292.1,407.0 L293.2,418.0 L294.9,447.3 L297.4,431.7 L300.5,416.0 L303.7,400.3 L306.8,387.8 L308.0,384.0 L309.9,384.0 L311.8,385.8 L313.7,384.0 L315.6,384.9 L317.5,382.3 L319.4,382.3 L321.4,380.5 L323.3,377.0 L325.2,371.1 L327.1,382.3 L329.0,392.8 L330.9,399.8 L332.9,406.8 L334.8,405.1 L336.7,396.3 L338.6,391.0 L340.5,394.5 L342.4,387.5 L344.3,387.5 L346.3,392.8 L348.2,398.0 L350.1,394.5 L352.0,392.8 L353.9,396.3 L355.8,392.8 L357.8,401.6" fill="none" stroke="#ff00ff" stroke-width="1.5" stroke-linejoin="round"/>
<line x1="233.40" y1="285.80" x2="233.40" y2="495.26" stroke="#000" stroke-width="1.5" />
<line x1="232.65" y1="494.51" x2="358.75" y2="494.51" stroke="#000" stroke-width="1.5" />
<line x1="226.90" y1="285.80" x2="233.40" y2="285.80" stroke="#000" stroke-width="1.5" />
<text x="220.40" y="290.10" font-size="10" text-anchor="end" fill="#2c2c2c" >1.0</text>
<line x1="226.90" y1="332.18" x2="233.40" y2="332.18" stroke="#000" stroke-width="1.5" />
<text x="220.40" y="336.48" font-size="10" text-anchor="end" fill="#2c2c2c" >0.8</text>
<line x1="226.90" y1="378.56" x2="233.40" y2="378.56" stroke="#000" stroke-width="1.5" />
<text x="220.40" y="382.86" font-size="10" text-anchor="end" fill="#2c2c2c" >0.6</text>
<line x1="226.90" y1="424.94" x2="233.40" y2="424.94" stroke="#000" stroke-width="1.5" />
<text x="220.40" y="429.24" font-size="10" text-anchor="end" fill="#2c2c2c" >0.4</text>
<line x1="226.90" y1="471.32" x2="233.40" y2="471.32" stroke="#000" stroke-width="1.5" />
<text x="220.40" y="475.62" font-size="10" text-anchor="end" fill="#2c2c2c" >0.2</text>
<line x1="242.80" y1="494.51" x2="242.80" y2="501.01" stroke="#000" stroke-width="1.5" />
<line x1="262.00" y1="494.51" x2="262.00" y2="501.01" stroke="#000" stroke-width="1.5" />
<line x1="281.20" y1="494.51" x2="281.20" y2="501.01" stroke="#000" stroke-width="1.5" />
<line x1="300.40" y1="494.51" x2="300.40" y2="501.01" stroke="#000" stroke-width="1.5" />
<line x1="319.60" y1="494.51" x2="319.60" y2="501.01" stroke="#000" stroke-width="1.5" />
<line x1="338.80" y1="494.51" x2="338.80" y2="501.01" stroke="#000" stroke-width="1.5" />
<line x1="358.00" y1="494.51" x2="358.00" y2="501.01" stroke="#000" stroke-width="1.5" />
<path d="M420.4,376.2 L422.8,373.8 L425.2,372.6 L427.6,371.4 L430.0,365.4 L431.8,358.2 L434.8,363.0 L437.2,367.8 L439.6,372.6 L442.0,370.2 L444.4,365.4 L448.0,363.0 L450.4,365.4 L452.8,369.0 L456.4,370.2 L460.0,372.6 L463.6,373.8 L466.0,371.4 L468.4,370.2 L470.8,367.8 L474.4,367.8 L476.8,369.0 L479.2,371.4 L481.6,373.8 L482.0,370.4 L488.0,372.8 L490.4,368.0 L492.8,362.0 L495.2,368.0 L497.6,368.0 L500.0,372.8 L503.0,368.0 L506.0,365.6 L509.6,368.0 L512.0,375.2 L515.0,376.4 L518.0,370.4 L522.2,364.4 L525.2,370.4 L527.6,375.2 L530.0,380.0 L533.6,376.4 L536.0,356.0 L537.8,354.8 L539.6,368.0 L542.0,377.6 L543.9,376.4 L545.0,403.6 L543.9,422.8 L541.3,421.1 L537.9,408.9 L536.1,401.9 L532.6,422.8 L527.4,427.1 L522.2,415.8 L517.0,412.4 L511.8,421.1 L504.9,415.8 L497.9,417.6 L491.0,410.6 L484.0,422.8 L480.5,419.3 L473.6,414.1 L466.6,419.3 L460.6,428.0 L456.2,417.6 L449.3,412.4 L442.3,419.3 L435.4,415.8 L431.9,417.6 L428.4,421.1 L424.9,408.9 L420.3,421.1Z" fill="rgb(72,98,232)" fill-opacity="0.3"/>
<path d="M420.4,369.0 L421.6,365.4 L424.0,362.4 L426.4,366.6 L428.8,365.4 L431.2,372.6 L434.8,375.0 L438.4,369.0 L440.8,360.6 L443.2,364.2 L445.6,357.0 L447.4,351.6 L449.2,360.6 L451.6,364.2 L453.4,357.0 L456.4,360.6 L458.8,361.8 L461.2,363.0 L463.6,369.0 L466.0,367.8 L468.4,366.6 L470.8,367.8 L473.2,366.6 L475.6,370.2 L478.0,372.6 L480.4,371.4 L482.0,370.4 L485.6,357.2 L488.6,370.4 L491.6,377.6 L496.4,376.4 L501.2,377.6 L506.0,374.0 L510.8,376.4 L515.6,377.6 L520.4,377.6 L525.2,380.0 L530.0,378.8 L533.6,377.6 L536.6,368.0 L538.4,338.0 L539.6,325.4 L540.8,334.4 L542.6,356.0 L543.9,370.4 L545.0,387.8 L543.9,403.7 L541.7,396.7 L539.6,398.5 L536.1,405.4 L532.6,421.1 L525.7,421.1 L522.2,412.4 L515.3,412.4 L511.8,415.8 L508.3,422.8 L504.9,426.3 L501.4,429.7 L497.9,424.5 L494.4,421.1 L491.0,408.9 L487.5,419.3 L484.0,422.8 L480.5,421.1 L475.3,415.8 L470.1,424.5 L465.8,435.0 L461.4,424.5 L456.2,421.1 L451.0,412.4 L445.8,424.5 L442.3,417.6 L438.0,426.3 L435.4,407.2 L430.2,419.3 L424.9,414.1 L420.3,421.1Z" fill="rgb(235,72,235)" fill-opacity="0.3"/>
<line x1="420.40" y1="401.75" x2="545.05" y2="401.75" stroke="#111" stroke-width="1.4" stroke-dasharray="5.5,6.05" stroke-dashoffset="-1.75"/>
<path d="M420.4,390.6 L422.8,396.6 L425.2,395.4 L427.6,396.6 L430.0,391.8 L432.4,384.6 L434.8,384.0 L437.2,385.8 L439.6,391.8 L442.0,393.0 L444.4,390.6 L448.0,388.2 L450.4,385.8 L452.8,388.2 L456.4,394.2 L460.0,400.2 L463.0,396.6 L466.0,391.8 L469.6,388.2 L473.2,389.4 L476.8,393.0 L480.4,397.8 L482.8,400.2 L483.7,400.1 L485.6,401.9 L487.5,401.9 L489.4,391.3 L491.4,386.1 L493.3,383.5 L495.2,391.3 L497.1,392.2 L499.0,394.9 L500.9,391.3 L502.8,387.8 L504.8,389.6 L506.7,388.7 L508.6,389.6 L510.5,394.9 L512.4,400.1 L514.3,396.6 L516.2,391.3 L518.2,393.1 L520.1,389.6 L522.0,387.8 L523.9,393.1 L525.8,400.1 L527.7,403.6 L529.7,406.2 L531.6,403.6 L533.5,401.9 L535.4,393.1 L537.3,366.8 L539.2,386.1 L541.1,405.4 L543.1,408.0 L545.0,405.4" fill="none" stroke="#2818e6" stroke-width="1.5" stroke-linejoin="round"/>
<path d="M420.4,403.8 L422.2,395.4 L424.0,387.0 L426.4,388.2 L428.8,388.2 L431.2,397.8 L433.6,400.2 L436.0,402.6 L437.8,407.4 L439.6,393.0 L441.4,387.0 L443.2,393.0 L445.6,387.0 L447.4,382.2 L449.2,388.2 L451.0,397.8 L452.8,384.6 L455.2,388.2 L457.6,393.0 L460.0,390.6 L462.4,396.6 L464.8,399.0 L466.0,401.4 L468.4,395.4 L470.8,394.2 L473.2,393.0 L475.6,393.0 L478.0,396.6 L480.4,394.2 L482.8,396.6 L483.7,396.6 L485.6,389.6 L487.5,396.6 L489.4,398.4 L491.4,396.6 L493.3,400.1 L495.2,401.9 L497.1,403.6 L499.0,405.4 L500.9,404.5 L502.8,403.6 L504.8,401.9 L506.7,400.1 L508.6,400.1 L510.5,398.4 L512.4,398.4 L514.3,396.6 L516.2,394.9 L518.2,396.6 L520.1,393.1 L522.0,394.9 L523.9,390.5 L525.8,394.9 L527.7,396.6 L529.7,400.1 L531.6,398.4 L533.5,400.1 L535.4,396.6 L537.3,382.6 L539.2,336.1 L541.1,365.1 L543.1,377.3 L545.0,393.1" fill="none" stroke="#ff00ff" stroke-width="1.5" stroke-linejoin="round"/>
<line x1="420.40" y1="285.80" x2="420.40" y2="495.26" stroke="#000" stroke-width="1.5" />
<line x1="419.65" y1="494.51" x2="545.80" y2="494.51" stroke="#000" stroke-width="1.5" />
<line x1="413.90" y1="285.80" x2="420.40" y2="285.80" stroke="#000" stroke-width="1.5" />
<text x="407.40" y="290.10" font-size="10" text-anchor="end" fill="#2c2c2c" >1.0</text>
<line x1="413.90" y1="332.18" x2="420.40" y2="332.18" stroke="#000" stroke-width="1.5" />
<text x="407.40" y="336.48" font-size="10" text-anchor="end" fill="#2c2c2c" >0.8</text>
<line x1="413.90" y1="378.56" x2="420.40" y2="378.56" stroke="#000" stroke-width="1.5" />
<text x="407.40" y="382.86" font-size="10" text-anchor="end" fill="#2c2c2c" >0.6</text>
<line x1="413.90" y1="424.94" x2="420.40" y2="424.94" stroke="#000" stroke-width="1.5" />
<text x="407.40" y="429.24" font-size="10" text-anchor="end" fill="#2c2c2c" >0.4</text>
<line x1="413.90" y1="471.32" x2="420.40" y2="471.32" stroke="#000" stroke-width="1.5" />
<text x="407.40" y="475.62" font-size="10" text-anchor="end" fill="#2c2c2c" >0.2</text>
<line x1="420.25" y1="494.51" x2="420.25" y2="501.01" stroke="#000" stroke-width="1.5" />
<line x1="439.45" y1="494.51" x2="439.45" y2="501.01" stroke="#000" stroke-width="1.5" />
<line x1="458.65" y1="494.51" x2="458.65" y2="501.01" stroke="#000" stroke-width="1.5" />
<line x1="477.85" y1="494.51" x2="477.85" y2="501.01" stroke="#000" stroke-width="1.5" />
<line x1="497.05" y1="494.51" x2="497.05" y2="501.01" stroke="#000" stroke-width="1.5" />
<line x1="516.25" y1="494.51" x2="516.25" y2="501.01" stroke="#000" stroke-width="1.5" />
<line x1="535.45" y1="494.51" x2="535.45" y2="501.01" stroke="#000" stroke-width="1.5" />
<text x="56.00" y="266.70" font-size="10" text-anchor="middle" fill="#2c2c2c" textLength="15.0" lengthAdjust="spacingAndGlyphs" >100</text>
<line x1="43.20" y1="263.10" x2="46.90" y2="263.10" stroke="#555" stroke-width="1.0" />
<text x="75.00" y="266.70" font-size="10" text-anchor="middle" fill="#2c2c2c" textLength="5.0" lengthAdjust="spacingAndGlyphs" >0</text>
<text x="94.40" y="266.70" font-size="10" text-anchor="middle" fill="#2c2c2c" textLength="15.0" lengthAdjust="spacingAndGlyphs" >100</text>
<text x="113.60" y="266.70" font-size="10" text-anchor="middle" fill="#2c2c2c" textLength="15.0" lengthAdjust="spacingAndGlyphs" >200</text>
<text x="132.80" y="266.70" font-size="10" text-anchor="middle" fill="#2c2c2c" textLength="15.0" lengthAdjust="spacingAndGlyphs" >300</text>
<text x="152.00" y="266.70" font-size="10" text-anchor="middle" fill="#2c2c2c" textLength="15.0" lengthAdjust="spacingAndGlyphs" >400</text>
<text x="171.20" y="266.70" font-size="10" text-anchor="middle" fill="#2c2c2c" textLength="15.0" lengthAdjust="spacingAndGlyphs" >500</text>
<text x="243.20" y="266.70" font-size="10" text-anchor="middle" fill="#2c2c2c" textLength="15.0" lengthAdjust="spacingAndGlyphs" >100</text>
<line x1="230.40" y1="263.10" x2="234.10" y2="263.10" stroke="#555" stroke-width="1.0" />
<text x="262.20" y="266.70" font-size="10" text-anchor="middle" fill="#2c2c2c" textLength="5.0" lengthAdjust="spacingAndGlyphs" >0</text>
<text x="281.60" y="266.70" font-size="10" text-anchor="middle" fill="#2c2c2c" textLength="15.0" lengthAdjust="spacingAndGlyphs" >100</text>
<text x="300.80" y="266.70" font-size="10" text-anchor="middle" fill="#2c2c2c" textLength="15.0" lengthAdjust="spacingAndGlyphs" >200</text>
<text x="320.00" y="266.70" font-size="10" text-anchor="middle" fill="#2c2c2c" textLength="15.0" lengthAdjust="spacingAndGlyphs" >300</text>
<text x="339.20" y="266.70" font-size="10" text-anchor="middle" fill="#2c2c2c" textLength="15.0" lengthAdjust="spacingAndGlyphs" >400</text>
<text x="358.40" y="266.70" font-size="10" text-anchor="middle" fill="#2c2c2c" textLength="15.0" lengthAdjust="spacingAndGlyphs" >500</text>
<text x="420.65" y="266.70" font-size="10" text-anchor="middle" fill="#2c2c2c" textLength="15.0" lengthAdjust="spacingAndGlyphs" >500</text>
<line x1="407.85" y1="263.10" x2="411.55" y2="263.10" stroke="#555" stroke-width="1.0" />
<text x="439.85" y="266.70" font-size="10" text-anchor="middle" fill="#2c2c2c" textLength="15.0" lengthAdjust="spacingAndGlyphs" >400</text>
<line x1="427.05" y1="263.10" x2="430.75" y2="263.10" stroke="#555" stroke-width="1.0" />
<text x="459.05" y="266.70" font-size="10" text-anchor="middle" fill="#2c2c2c" textLength="15.0" lengthAdjust="spacingAndGlyphs" >300</text>
<line x1="446.25" y1="263.10" x2="449.95" y2="263.10" stroke="#555" stroke-width="1.0" />
<text x="478.25" y="266.70" font-size="10" text-anchor="middle" fill="#2c2c2c" textLength="15.0" lengthAdjust="spacingAndGlyphs" >200</text>
<line x1="465.45" y1="263.10" x2="469.15" y2="263.10" stroke="#555" stroke-width="1.0" />
<text x="497.45" y="266.70" font-size="10" text-anchor="middle" fill="#2c2c2c" textLength="15.0" lengthAdjust="spacingAndGlyphs" >100</text>
<line x1="484.65" y1="263.10" x2="488.35" y2="263.10" stroke="#555" stroke-width="1.0" />
<text x="516.45" y="266.70" font-size="10" text-anchor="middle" fill="#2c2c2c" textLength="5.0" lengthAdjust="spacingAndGlyphs" >0</text>
<text x="535.85" y="266.70" font-size="10" text-anchor="middle" fill="#2c2c2c" textLength="15.0" lengthAdjust="spacingAndGlyphs" >100</text>
<text x="56.00" y="514.50" font-size="10" text-anchor="middle" fill="#2c2c2c" textLength="15.0" lengthAdjust="spacingAndGlyphs" >100</text>
<line x1="43.20" y1="510.90" x2="46.90" y2="510.90" stroke="#555" stroke-width="1.0" />
<text x="75.00" y="514.50" font-size="10" text-anchor="middle" fill="#2c2c2c" textLength="5.0" lengthAdjust="spacingAndGlyphs" >0</text>
<text x="94.40" y="514.50" font-size="10" text-anchor="middle" fill="#2c2c2c" textLength="15.0" lengthAdjust="spacingAndGlyphs" >100</text>
<text x="113.60" y="514.50" font-size="10" text-anchor="middle" fill="#2c2c2c" textLength="15.0" lengthAdjust="spacingAndGlyphs" >200</text>
<text x="132.80" y="514.50" font-size="10" text-anchor="middle" fill="#2c2c2c" textLength="15.0" lengthAdjust="spacingAndGlyphs" >300</text>
<text x="152.00" y="514.50" font-size="10" text-anchor="middle" fill="#2c2c2c" textLength="15.0" lengthAdjust="spacingAndGlyphs" >400</text>
<text x="171.20" y="514.50" font-size="10" text-anchor="middle" fill="#2c2c2c" textLength="15.0" lengthAdjust="spacingAndGlyphs" >500</text>
<text x="243.20" y="519.90" font-size="10" text-anchor="middle" fill="#2c2c2c" textLength="15.0" lengthAdjust="spacingAndGlyphs" >100</text>
<line x1="230.40" y1="516.30" x2="234.10" y2="516.30" stroke="#555" stroke-width="1.0" />
<text x="262.20" y="519.90" font-size="10" text-anchor="middle" fill="#2c2c2c" textLength="5.0" lengthAdjust="spacingAndGlyphs" >0</text>
<text x="281.60" y="519.90" font-size="10" text-anchor="middle" fill="#2c2c2c" textLength="15.0" lengthAdjust="spacingAndGlyphs" >100</text>
<text x="300.80" y="519.90" font-size="10" text-anchor="middle" fill="#2c2c2c" textLength="15.0" lengthAdjust="spacingAndGlyphs" >200</text>
<text x="320.00" y="519.90" font-size="10" text-anchor="middle" fill="#2c2c2c" textLength="15.0" lengthAdjust="spacingAndGlyphs" >300</text>
<text x="339.20" y="519.90" font-size="10" text-anchor="middle" fill="#2c2c2c" textLength="15.0" lengthAdjust="spacingAndGlyphs" >400</text>
<text x="358.40" y="519.90" font-size="10" text-anchor="middle" fill="#2c2c2c" textLength="15.0" lengthAdjust="spacingAndGlyphs" >500</text>
<text x="420.65" y="515.50" font-size="10" text-anchor="middle" fill="#2c2c2c" textLength="15.0" lengthAdjust="spacingAndGlyphs" >500</text>
<line x1="407.85" y1="511.90" x2="411.55" y2="511.90" stroke="#555" stroke-width="1.0" />
<text x="439.85" y="515.50" font-size="10" text-anchor="middle" fill="#2c2c2c" textLength="15.0" lengthAdjust="spacingAndGlyphs" >400</text>
<line x1="427.05" y1="511.90" x2="430.75" y2="511.90" stroke="#555" stroke-width="1.0" />
<text x="459.05" y="515.50" font-size="10" text-anchor="middle" fill="#2c2c2c" textLength="15.0" lengthAdjust="spacingAndGlyphs" >300</text>
<line x1="446.25" y1="511.90" x2="449.95" y2="511.90" stroke="#555" stroke-width="1.0" />
<text x="478.25" y="515.50" font-size="10" text-anchor="middle" fill="#2c2c2c" textLength="15.0" lengthAdjust="spacingAndGlyphs" >200</text>
<line x1="465.45" y1="511.90" x2="469.15" y2="511.90" stroke="#555" stroke-width="1.0" />
<text x="497.45" y="515.50" font-size="10" text-anchor="middle" fill="#2c2c2c" textLength="15.0" lengthAdjust="spacingAndGlyphs" >100</text>
<line x1="484.65" y1="511.90" x2="488.35" y2="511.90" stroke="#555" stroke-width="1.0" />
<text x="516.45" y="515.50" font-size="10" text-anchor="middle" fill="#2c2c2c" textLength="5.0" lengthAdjust="spacingAndGlyphs" >0</text>
<text x="535.85" y="515.50" font-size="10" text-anchor="middle" fill="#2c2c2c" textLength="15.0" lengthAdjust="spacingAndGlyphs" >100</text>
<line x1="75.00" y1="36.20" x2="75.00" y2="244.91" stroke="#7a7a7a" stroke-width="1.6" />
<line x1="94.50" y1="36.20" x2="94.50" y2="244.91" stroke="#222" stroke-width="1.2" />
<line x1="75.00" y1="285.80" x2="75.00" y2="494.51" stroke="#7a7a7a" stroke-width="1.6" />
<line x1="94.50" y1="285.80" x2="94.50" y2="494.51" stroke="#222" stroke-width="1.2" />
<line x1="262.10" y1="36.20" x2="262.10" y2="244.91" stroke="#707070" stroke-width="1.6" />
<line x1="262.10" y1="285.80" x2="262.10" y2="494.51" stroke="#707070" stroke-width="1.6" />
<line x1="516.50" y1="36.20" x2="516.50" y2="244.91" stroke="#333" stroke-width="1.3" />
<line x1="516.50" y1="285.80" x2="516.50" y2="494.51" stroke="#333" stroke-width="1.3" />
<rect x="47.20" y="68.00" width="26.30" height="5.00" fill="#c8c8c8" stroke="none" stroke-width="0"/>
<rect x="76.10" y="48.30" width="95.00" height="5.00" fill="#c8c8c8" stroke="none" stroke-width="0"/>
<rect x="262.60" y="48.30" width="95.60" height="5.00" fill="#c8c8c8" stroke="none" stroke-width="0"/>
<rect x="420.80" y="48.30" width="95.40" height="5.00" fill="#c8c8c8" stroke="none" stroke-width="0"/>
<text x="47.80" y="84.40" font-size="7.6" text-anchor="start" fill="#2c2c2c" textLength="24.8" lengthAdjust="spacingAndGlyphs" >Control</text>
<text x="123.50" y="67.30" font-size="7.6" text-anchor="middle" fill="#2c2c2c" textLength="27.8" lengthAdjust="spacingAndGlyphs" >Period 1</text>
<text x="310.30" y="67.30" font-size="7.6" text-anchor="middle" fill="#2c2c2c" textLength="27.8" lengthAdjust="spacingAndGlyphs" >Period 2</text>
<text x="467.00" y="67.30" font-size="7.6" text-anchor="middle" fill="#2c2c2c" textLength="27.8" lengthAdjust="spacingAndGlyphs" >Period 3</text>
<line x1="276.20" y1="233.80" x2="286.30" y2="233.80" stroke="#000" stroke-width="1.6" />
<line x1="287.50" y1="233.80" x2="298.00" y2="233.80" stroke="#000" stroke-width="1.6" />
<line x1="337.50" y1="233.80" x2="348.00" y2="233.80" stroke="#000" stroke-width="1.6" />
<line x1="535.50" y1="233.80" x2="545.50" y2="233.80" stroke="#000" stroke-width="1.6" />
<line x1="276.20" y1="483.30" x2="301.80" y2="483.30" stroke="#000" stroke-width="1.6" />
<line x1="535.50" y1="483.30" x2="545.80" y2="483.30" stroke="#000" stroke-width="1.6" />
<text x="1.30" y="27.90" font-size="16" text-anchor="start" fill="#222" >A</text>
<text x="188.70" y="28.90" font-size="16" text-anchor="start" fill="#222" >B</text>
<text x="372.60" y="28.20" font-size="16" text-anchor="start" fill="#222" >C</text>
<text x="572.00" y="27.60" font-size="16" text-anchor="start" fill="#222" >D</text>
<text x="2.20" y="278.20" font-size="16" text-anchor="start" fill="#222" >E</text>
<text x="189.50" y="278.20" font-size="16" text-anchor="start" fill="#222" >F</text>
<text x="372.60" y="278.20" font-size="16" text-anchor="start" fill="#222" >G</text>
<text x="571.50" y="277.90" font-size="16" text-anchor="start" fill="#222" >H</text>
<text x="69.90" y="21.10" font-size="9.8" text-anchor="middle" fill="#2c2c2c" >Cue</text>
<text x="70.00" y="31.00" font-size="9.8" text-anchor="middle" fill="#2c2c2c" >onset</text>
<text x="97.40" y="21.10" font-size="9.8" text-anchor="middle" fill="#2c2c2c" >Cue</text>
<text x="98.10" y="31.00" font-size="9.8" text-anchor="middle" fill="#2c2c2c" >offset</text>
<text x="261.20" y="21.10" font-size="10" text-anchor="middle" fill="#2c2c2c" >Stimulus</text>
<text x="262.00" y="31.00" font-size="10" text-anchor="middle" fill="#2c2c2c" >onset</text>
<text x="515.30" y="18.70" font-size="9.8" text-anchor="middle" fill="#2c2c2c" >Color</text>
<text x="515.90" y="29.20" font-size="9.8" text-anchor="middle" fill="#2c2c2c" >change</text>
<text x="111.30" y="532.80" font-size="11.3" text-anchor="middle" fill="#2c2c2c" textLength="127.5" lengthAdjust="spacingAndGlyphs" >Time from cue onset (ms)</text>
<text x="296.90" y="538.60" font-size="11.3" text-anchor="middle" fill="#2c2c2c" textLength="151.2" lengthAdjust="spacingAndGlyphs" >Time from stimulus onset (ms)</text>
<text x="487.30" y="534.00" font-size="11.3" text-anchor="middle" fill="#2c2c2c" textLength="143.0" lengthAdjust="spacingAndGlyphs" >Time from color change (ms)</text>
<text transform="translate(10.2,136.2) rotate(-90)" x="0" y="0" font-size="11" text-anchor="middle" fill="#2c2c2c" textLength="138" lengthAdjust="spacingAndGlyphs">Directional congruency</text>
<text transform="translate(10.2,387.4) rotate(-90)" x="0" y="0" font-size="11" text-anchor="middle" fill="#2c2c2c" textLength="138" lengthAdjust="spacingAndGlyphs">Directional congruency</text>
<rect x="630.90" y="84.50" width="7.90" height="48.70" fill="#0000ff" stroke="#222" stroke-width="0.8"/>
<rect x="638.80" y="83.70" width="8.00" height="49.50" fill="#ff00ff" stroke="#222" stroke-width="0.8"/>
<line x1="634.85" y1="82.20" x2="634.85" y2="87.20" stroke="#222" stroke-width="0.9" />
<line x1="633.35" y1="82.20" x2="636.35" y2="82.20" stroke="#222" stroke-width="0.9" />
<line x1="633.35" y1="87.20" x2="636.35" y2="87.20" stroke="#222" stroke-width="0.9" />
<line x1="642.80" y1="81.20" x2="642.80" y2="86.50" stroke="#222" stroke-width="0.9" />
<line x1="641.30" y1="81.20" x2="644.30" y2="81.20" stroke="#222" stroke-width="0.9" />
<line x1="641.30" y1="86.50" x2="644.30" y2="86.50" stroke="#222" stroke-width="0.9" />
<rect x="657.10" y="83.40" width="7.80" height="49.80" fill="#0000ff" stroke="#222" stroke-width="0.8"/>
<rect x="664.90" y="84.20" width="8.10" height="49.00" fill="#ff00ff" stroke="#222" stroke-width="0.8"/>
<line x1="661.00" y1="78.20" x2="661.00" y2="89.50" stroke="#222" stroke-width="0.9" />
<line x1="659.50" y1="78.20" x2="662.50" y2="78.20" stroke="#222" stroke-width="0.9" />
<line x1="659.50" y1="89.50" x2="662.50" y2="89.50" stroke="#222" stroke-width="0.9" />
<line x1="668.95" y1="77.70" x2="668.95" y2="90.60" stroke="#222" stroke-width="0.9" />
<line x1="667.45" y1="77.70" x2="670.45" y2="77.70" stroke="#222" stroke-width="0.9" />
<line x1="667.45" y1="90.60" x2="670.45" y2="90.60" stroke="#222" stroke-width="0.9" />
<rect x="683.20" y="84.50" width="7.60" height="48.70" fill="#0000ff" stroke="#222" stroke-width="0.8"/>
<rect x="690.80" y="89.30" width="7.90" height="43.90" fill="#ff00ff" stroke="#222" stroke-width="0.8"/>
<line x1="687.00" y1="80.40" x2="687.00" y2="88.70" stroke="#222" stroke-width="0.9" />
<line x1="685.50" y1="80.40" x2="688.50" y2="80.40" stroke="#222" stroke-width="0.9" />
<line x1="685.50" y1="88.70" x2="688.50" y2="88.70" stroke="#222" stroke-width="0.9" />
<line x1="694.75" y1="82.70" x2="694.75" y2="96.20" stroke="#222" stroke-width="0.9" />
<line x1="693.25" y1="82.70" x2="696.25" y2="82.70" stroke="#222" stroke-width="0.9" />
<line x1="693.25" y1="96.20" x2="696.25" y2="96.20" stroke="#222" stroke-width="0.9" />
<rect x="709.30" y="88.00" width="7.80" height="45.20" fill="#0000ff" stroke="#222" stroke-width="0.8"/>
<rect x="717.10" y="83.70" width="7.60" height="49.50" fill="#ff00ff" stroke="#222" stroke-width="0.8"/>
<line x1="713.20" y1="84.20" x2="713.20" y2="92.50" stroke="#222" stroke-width="0.9" />
<line x1="711.70" y1="84.20" x2="714.70" y2="84.20" stroke="#222" stroke-width="0.9" />
<line x1="711.70" y1="92.50" x2="714.70" y2="92.50" stroke="#222" stroke-width="0.9" />
<line x1="720.90" y1="79.20" x2="720.90" y2="88.60" stroke="#222" stroke-width="0.9" />
<line x1="719.40" y1="79.20" x2="722.40" y2="79.20" stroke="#222" stroke-width="0.9" />
<line x1="719.40" y1="88.60" x2="722.40" y2="88.60" stroke="#222" stroke-width="0.9" />
<text x="639.50" y="74.40" font-size="7.8" text-anchor="middle" fill="#222" textLength="8.6" lengthAdjust="spacingAndGlyphs" >ns</text>
<line x1="635.10" y1="76.50" x2="643.80" y2="76.50" stroke="#666" stroke-width="1.0" />
<text x="665.40" y="70.90" font-size="7.8" text-anchor="middle" fill="#222" textLength="8.6" lengthAdjust="spacingAndGlyphs" >ns</text>
<line x1="661.20" y1="72.70" x2="669.60" y2="72.70" stroke="#666" stroke-width="1.0" />
<text x="692.10" y="72.40" font-size="7.8" text-anchor="middle" fill="#222" textLength="8.6" lengthAdjust="spacingAndGlyphs" >ns</text>
<line x1="687.80" y1="74.70" x2="696.40" y2="74.70" stroke="#666" stroke-width="1.0" />
<text x="717.50" y="72.40" font-size="7.8" text-anchor="middle" fill="#222" textLength="8.6" lengthAdjust="spacingAndGlyphs" >ns</text>
<line x1="713.10" y1="74.70" x2="721.80" y2="74.70" stroke="#666" stroke-width="1.0" />
<line x1="622.90" y1="37.50" x2="622.90" y2="133.20" stroke="#8a8a8a" stroke-width="1.8" />
<line x1="620.10" y1="37.50" x2="622.90" y2="37.50" stroke="#222" stroke-width="1.0" />
<text x="613.30" y="39.60" font-size="7.8" text-anchor="end" fill="#333" textLength="15.9" lengthAdjust="spacingAndGlyphs" >0.60</text>
<line x1="620.10" y1="61.30" x2="622.90" y2="61.30" stroke="#222" stroke-width="1.0" />
<text x="613.30" y="63.40" font-size="7.8" text-anchor="end" fill="#333" textLength="15.9" lengthAdjust="spacingAndGlyphs" >0.55</text>
<line x1="620.10" y1="85.00" x2="622.90" y2="85.00" stroke="#222" stroke-width="1.0" />
<text x="613.30" y="87.10" font-size="7.8" text-anchor="end" fill="#333" textLength="15.9" lengthAdjust="spacingAndGlyphs" >0.50</text>
<line x1="620.10" y1="108.70" x2="622.90" y2="108.70" stroke="#222" stroke-width="1.0" />
<text x="613.30" y="110.80" font-size="7.8" text-anchor="end" fill="#333" textLength="15.9" lengthAdjust="spacingAndGlyphs" >0.45</text>
<line x1="620.10" y1="132.40" x2="622.90" y2="132.40" stroke="#222" stroke-width="1.0" />
<text x="613.30" y="134.50" font-size="7.8" text-anchor="end" fill="#333" textLength="15.9" lengthAdjust="spacingAndGlyphs" >0.40</text>
<line x1="620.40" y1="133.20" x2="729.50" y2="133.20" stroke="#222" stroke-width="1.3" />
<line x1="638.40" y1="133.20" x2="638.40" y2="136.40" stroke="#222" stroke-width="1.0" />
<line x1="664.40" y1="133.20" x2="664.40" y2="136.40" stroke="#222" stroke-width="1.0" />
<line x1="690.50" y1="133.20" x2="690.50" y2="136.40" stroke="#222" stroke-width="1.0" />
<line x1="716.80" y1="133.20" x2="716.80" y2="136.40" stroke="#222" stroke-width="1.0" />
<text transform="translate(582.40,86.00) rotate(-90)" x="0" y="0" font-size="10" text-anchor="middle" dominant-baseline="central" fill="#2c2c2c" textLength="105.5" lengthAdjust="spacingAndGlyphs">Directional congruency</text>
<text transform="translate(639.70,146.50) rotate(-15)" x="0" y="0" font-size="8.3" text-anchor="middle" fill="#444">Control</text>
<text transform="translate(665.70,146.50) rotate(-15)" x="0" y="0" font-size="8.3" text-anchor="middle" fill="#444">Period 1</text>
<text transform="translate(691.80,146.50) rotate(-15)" x="0" y="0" font-size="8.3" text-anchor="middle" fill="#444">Period 2</text>
<text transform="translate(718.10,146.50) rotate(-15)" x="0" y="0" font-size="8.3" text-anchor="middle" fill="#444">Period 3</text>
<line x1="620.80" y1="153.50" x2="730.50" y2="153.50" stroke="#333" stroke-width="1.3" />
<line x1="638.40" y1="149.50" x2="638.40" y2="153.50" stroke="#333" stroke-width="1.0" />
<line x1="664.40" y1="149.50" x2="664.40" y2="153.50" stroke="#333" stroke-width="1.0" />
<line x1="690.50" y1="149.50" x2="690.50" y2="153.50" stroke="#333" stroke-width="1.0" />
<line x1="716.80" y1="149.50" x2="716.80" y2="153.50" stroke="#333" stroke-width="1.0" />
<line x1="622.90" y1="153.50" x2="622.90" y2="249.00" stroke="#8a8a8a" stroke-width="1.6" />
<line x1="620.10" y1="153.50" x2="622.90" y2="153.50" stroke="#222" stroke-width="1.0" />
<text x="612.90" y="160.50" font-size="7.8" text-anchor="end" fill="#333" textLength="15.9" lengthAdjust="spacingAndGlyphs" >0.04</text>
<line x1="620.10" y1="177.50" x2="622.90" y2="177.50" stroke="#222" stroke-width="1.0" />
<text x="612.90" y="183.80" font-size="7.8" text-anchor="end" fill="#333" textLength="15.9" lengthAdjust="spacingAndGlyphs" >0.02</text>
<line x1="620.10" y1="201.20" x2="622.90" y2="201.20" stroke="#222" stroke-width="1.0" />
<text x="612.90" y="207.30" font-size="7.8" text-anchor="end" fill="#333" textLength="15.9" lengthAdjust="spacingAndGlyphs" >0.00</text>
<line x1="620.10" y1="225.60" x2="622.90" y2="225.60" stroke="#222" stroke-width="1.0" />
<text x="612.90" y="231.10" font-size="7.8" text-anchor="end" fill="#333" textLength="19.3" lengthAdjust="spacingAndGlyphs" >-0.02</text>
<line x1="620.10" y1="249.00" x2="622.90" y2="249.00" stroke="#222" stroke-width="1.0" />
<text x="612.90" y="254.40" font-size="7.8" text-anchor="end" fill="#333" textLength="19.3" lengthAdjust="spacingAndGlyphs" >-0.04</text>
<rect x="633.50" y="199.10" width="10.60" height="2.10" fill="#c6c6c6" stroke="#333" stroke-width="0.9"/>
<line x1="638.80" y1="191.30" x2="638.80" y2="207.00" stroke="#333" stroke-width="0.9" />
<line x1="637.50" y1="191.30" x2="640.10" y2="191.30" stroke="#333" stroke-width="0.9" />
<line x1="637.50" y1="207.00" x2="640.10" y2="207.00" stroke="#333" stroke-width="0.9" />
<rect x="659.60" y="201.20" width="10.60" height="4.30" fill="#c6c6c6" stroke="#333" stroke-width="0.9"/>
<line x1="664.90" y1="196.60" x2="664.90" y2="213.30" stroke="#333" stroke-width="0.9" />
<line x1="663.60" y1="196.60" x2="666.20" y2="196.60" stroke="#333" stroke-width="0.9" />
<line x1="663.60" y1="213.30" x2="666.20" y2="213.30" stroke="#333" stroke-width="0.9" />
<rect x="685.50" y="201.20" width="11.00" height="19.10" fill="#c6c6c6" stroke="#333" stroke-width="0.9"/>
<line x1="691.00" y1="201.90" x2="691.00" y2="238.40" stroke="#333" stroke-width="0.9" />
<line x1="689.70" y1="201.90" x2="692.30" y2="201.90" stroke="#333" stroke-width="0.9" />
<line x1="689.70" y1="238.40" x2="692.30" y2="238.40" stroke="#333" stroke-width="0.9" />
<rect x="711.60" y="190.60" width="11.00" height="10.60" fill="#c6c6c6" stroke="#333" stroke-width="0.9"/>
<line x1="717.10" y1="173.60" x2="717.10" y2="207.60" stroke="#333" stroke-width="0.9" />
<line x1="715.80" y1="173.60" x2="718.40" y2="173.60" stroke="#333" stroke-width="0.9" />
<line x1="715.80" y1="207.60" x2="718.40" y2="207.60" stroke="#333" stroke-width="0.9" />
<line x1="622.90" y1="201.20" x2="730.50" y2="201.20" stroke="#111" stroke-width="1.2" />
<text transform="translate(583.20,204.80) rotate(-90)" x="0" y="0" font-size="10" text-anchor="middle" dominant-baseline="central" fill="#2c2c2c" textLength="78.6" lengthAdjust="spacingAndGlyphs">DMI_congruency</text>
<rect x="629.80" y="319.50" width="8.10" height="61.90" fill="#0000ff" stroke="#222" stroke-width="0.8"/>
<rect x="637.90" y="314.50" width="7.80" height="66.90" fill="#ff00ff" stroke="#222" stroke-width="0.8"/>
<line x1="633.85" y1="317.10" x2="633.85" y2="322.50" stroke="#222" stroke-width="0.9" />
<line x1="632.35" y1="317.10" x2="635.35" y2="317.10" stroke="#222" stroke-width="0.9" />
<line x1="632.35" y1="322.50" x2="635.35" y2="322.50" stroke="#222" stroke-width="0.9" />
<line x1="641.80" y1="312.20" x2="641.80" y2="317.50" stroke="#222" stroke-width="0.9" />
<line x1="640.30" y1="312.20" x2="643.30" y2="312.20" stroke="#222" stroke-width="0.9" />
<line x1="640.30" y1="317.50" x2="643.30" y2="317.50" stroke="#222" stroke-width="0.9" />
<rect x="656.30" y="322.40" width="8.00" height="59.00" fill="#0000ff" stroke="#222" stroke-width="0.8"/>
<rect x="664.30" y="327.70" width="8.20" height="53.70" fill="#ff00ff" stroke="#222" stroke-width="0.8"/>
<line x1="660.30" y1="319.30" x2="660.30" y2="326.20" stroke="#222" stroke-width="0.9" />
<line x1="658.80" y1="319.30" x2="661.80" y2="319.30" stroke="#222" stroke-width="0.9" />
<line x1="658.80" y1="326.20" x2="661.80" y2="326.20" stroke="#222" stroke-width="0.9" />
<line x1="668.40" y1="325.40" x2="668.40" y2="330.10" stroke="#222" stroke-width="0.9" />
<line x1="666.90" y1="325.40" x2="669.90" y2="325.40" stroke="#222" stroke-width="0.9" />
<line x1="666.90" y1="330.10" x2="669.90" y2="330.10" stroke="#222" stroke-width="0.9" />
<rect x="683.20" y="320.90" width="7.90" height="60.50" fill="#0000ff" stroke="#222" stroke-width="0.8"/>
<rect x="691.10" y="310.30" width="8.30" height="71.10" fill="#ff00ff" stroke="#222" stroke-width="0.8"/>
<line x1="687.15" y1="317.20" x2="687.15" y2="324.60" stroke="#222" stroke-width="0.9" />
<line x1="685.65" y1="317.20" x2="688.65" y2="317.20" stroke="#222" stroke-width="0.9" />
<line x1="685.65" y1="324.60" x2="688.65" y2="324.60" stroke="#222" stroke-width="0.9" />
<line x1="695.25" y1="303.50" x2="695.25" y2="317.50" stroke="#222" stroke-width="0.9" />
<line x1="693.75" y1="303.50" x2="696.75" y2="303.50" stroke="#222" stroke-width="0.9" />
<line x1="693.75" y1="317.50" x2="696.75" y2="317.50" stroke="#222" stroke-width="0.9" />
<rect x="710.00" y="313.00" width="8.00" height="68.40" fill="#0000ff" stroke="#222" stroke-width="0.8"/>
<rect x="718.00" y="318.30" width="7.90" height="63.10" fill="#ff00ff" stroke="#222" stroke-width="0.8"/>
<line x1="714.00" y1="311.60" x2="714.00" y2="314.50" stroke="#222" stroke-width="0.9" />
<line x1="712.50" y1="311.60" x2="715.50" y2="311.60" stroke="#222" stroke-width="0.9" />
<line x1="712.50" y1="314.50" x2="715.50" y2="314.50" stroke="#222" stroke-width="0.9" />
<line x1="721.95" y1="316.30" x2="721.95" y2="320.30" stroke="#222" stroke-width="0.9" />
<line x1="720.45" y1="316.30" x2="723.45" y2="316.30" stroke="#222" stroke-width="0.9" />
<line x1="720.45" y1="320.30" x2="723.45" y2="320.30" stroke="#222" stroke-width="0.9" />
<text x="637.50" y="304.70" font-size="7.8" text-anchor="middle" fill="#222" textLength="8.6" lengthAdjust="spacingAndGlyphs" >ns</text>
<line x1="633.30" y1="306.90" x2="641.60" y2="306.90" stroke="#666" stroke-width="1.0" />
<text x="666.20" y="311.50" font-size="7.8" text-anchor="middle" fill="#222" textLength="8.6" lengthAdjust="spacingAndGlyphs" >ns</text>
<line x1="661.90" y1="313.40" x2="670.40" y2="313.40" stroke="#666" stroke-width="1.0" />
<text x="690.40" y="295.30" font-size="7.8" text-anchor="middle" fill="#222" textLength="8.6" lengthAdjust="spacingAndGlyphs" >ns</text>
<line x1="686.30" y1="297.40" x2="694.40" y2="297.40" stroke="#666" stroke-width="1.0" />
<text x="719.10" y="305.00" font-size="7.8" text-anchor="middle" fill="#222" >*</text>
<line x1="715.30" y1="306.20" x2="722.60" y2="306.20" stroke="#666" stroke-width="1.0" />
<line x1="621.60" y1="284.50" x2="621.60" y2="381.40" stroke="#222" stroke-width="1.2" />
<line x1="618.80" y1="284.50" x2="621.60" y2="284.50" stroke="#222" stroke-width="1.0" />
<text x="611.30" y="287.10" font-size="7.8" text-anchor="end" fill="#333" textLength="15.9" lengthAdjust="spacingAndGlyphs" >0.60</text>
<line x1="618.80" y1="308.20" x2="621.60" y2="308.20" stroke="#222" stroke-width="1.0" />
<text x="611.30" y="310.60" font-size="7.8" text-anchor="end" fill="#333" textLength="15.9" lengthAdjust="spacingAndGlyphs" >0.55</text>
<line x1="618.80" y1="332.40" x2="621.60" y2="332.40" stroke="#222" stroke-width="1.0" />
<text x="611.30" y="334.70" font-size="7.8" text-anchor="end" fill="#333" textLength="15.9" lengthAdjust="spacingAndGlyphs" >0.50</text>
<line x1="618.80" y1="356.80" x2="621.60" y2="356.80" stroke="#222" stroke-width="1.0" />
<text x="611.30" y="358.90" font-size="7.8" text-anchor="end" fill="#333" textLength="15.9" lengthAdjust="spacingAndGlyphs" >0.45</text>
<line x1="618.80" y1="381.00" x2="621.60" y2="381.00" stroke="#222" stroke-width="1.0" />
<text x="611.30" y="383.10" font-size="7.8" text-anchor="end" fill="#333" textLength="15.9" lengthAdjust="spacingAndGlyphs" >0.40</text>
<line x1="619.10" y1="381.40" x2="731.80" y2="381.40" stroke="#222" stroke-width="1.3" />
<line x1="637.40" y1="381.40" x2="637.40" y2="384.60" stroke="#222" stroke-width="1.0" />
<line x1="664.30" y1="381.40" x2="664.30" y2="384.60" stroke="#222" stroke-width="1.0" />
<line x1="691.60" y1="381.40" x2="691.60" y2="384.60" stroke="#222" stroke-width="1.0" />
<line x1="718.40" y1="381.40" x2="718.40" y2="384.60" stroke="#222" stroke-width="1.0" />
<text transform="translate(583.40,333.50) rotate(-90)" x="0" y="0" font-size="10" text-anchor="middle" dominant-baseline="central" fill="#2c2c2c" textLength="105.5" lengthAdjust="spacingAndGlyphs">Directional congruency</text>
<text transform="translate(638.70,394.70) rotate(-15)" x="0" y="0" font-size="8.3" text-anchor="middle" fill="#444">Control</text>
<text transform="translate(665.60,394.70) rotate(-15)" x="0" y="0" font-size="8.3" text-anchor="middle" fill="#444">Period 1</text>
<text transform="translate(692.90,394.70) rotate(-15)" x="0" y="0" font-size="8.3" text-anchor="middle" fill="#444">Period 2</text>
<text transform="translate(719.70,394.70) rotate(-15)" x="0" y="0" font-size="8.3" text-anchor="middle" fill="#444">Period 3</text>
<line x1="618.60" y1="402.30" x2="731.70" y2="402.30" stroke="#333" stroke-width="1.3" />
<line x1="637.70" y1="398.30" x2="637.70" y2="402.30" stroke="#333" stroke-width="1.0" />
<line x1="664.70" y1="398.30" x2="664.70" y2="402.30" stroke="#333" stroke-width="1.0" />
<line x1="691.40" y1="398.30" x2="691.40" y2="402.30" stroke="#333" stroke-width="1.0" />
<line x1="718.40" y1="398.30" x2="718.40" y2="402.30" stroke="#333" stroke-width="1.0" />
<line x1="621.80" y1="402.30" x2="621.80" y2="499.90" stroke="#555" stroke-width="1.6" />
<line x1="619.00" y1="402.30" x2="621.80" y2="402.30" stroke="#222" stroke-width="1.0" />
<text x="611.20" y="413.50" font-size="7.8" text-anchor="end" fill="#333" textLength="15.9" lengthAdjust="spacingAndGlyphs" >0.04</text>
<line x1="619.00" y1="426.70" x2="621.80" y2="426.70" stroke="#222" stroke-width="1.0" />
<text x="611.20" y="435.80" font-size="7.8" text-anchor="end" fill="#333" textLength="15.9" lengthAdjust="spacingAndGlyphs" >0.02</text>
<line x1="619.00" y1="451.10" x2="621.80" y2="451.10" stroke="#222" stroke-width="1.0" />
<text x="611.20" y="458.70" font-size="7.8" text-anchor="end" fill="#333" textLength="15.9" lengthAdjust="spacingAndGlyphs" >0.00</text>
<line x1="619.00" y1="475.30" x2="621.80" y2="475.30" stroke="#222" stroke-width="1.0" />
<text x="611.20" y="481.40" font-size="7.8" text-anchor="end" fill="#333" textLength="19.3" lengthAdjust="spacingAndGlyphs" >-0.02</text>
<line x1="619.00" y1="499.90" x2="621.80" y2="499.90" stroke="#222" stroke-width="1.0" />
<text x="611.20" y="504.30" font-size="7.8" text-anchor="end" fill="#333" textLength="19.3" lengthAdjust="spacingAndGlyphs" >-0.04</text>
<rect x="632.00" y="439.20" width="11.50" height="11.90" fill="#c6c6c6" stroke="#333" stroke-width="0.9"/>
<line x1="637.75" y1="432.40" x2="637.75" y2="445.60" stroke="#333" stroke-width="0.9" />
<line x1="636.45" y1="432.40" x2="639.05" y2="432.40" stroke="#333" stroke-width="0.9" />
<line x1="636.45" y1="445.60" x2="639.05" y2="445.60" stroke="#333" stroke-width="0.9" />
<rect x="659.00" y="451.10" width="11.20" height="11.50" fill="#c6c6c6" stroke="#333" stroke-width="0.9"/>
<line x1="664.60" y1="456.20" x2="664.60" y2="469.10" stroke="#333" stroke-width="0.9" />
<line x1="663.30" y1="456.20" x2="665.90" y2="456.20" stroke="#333" stroke-width="0.9" />
<line x1="663.30" y1="469.10" x2="665.90" y2="469.10" stroke="#333" stroke-width="0.9" />
<rect x="685.50" y="432.40" width="11.20" height="18.70" fill="#c6c6c6" stroke="#333" stroke-width="0.9"/>
<line x1="691.10" y1="417.20" x2="691.10" y2="447.30" stroke="#333" stroke-width="0.9" />
<line x1="689.80" y1="417.20" x2="692.40" y2="417.20" stroke="#333" stroke-width="0.9" />
<line x1="689.80" y1="447.30" x2="692.40" y2="447.30" stroke="#333" stroke-width="0.9" />
<rect x="712.40" y="451.10" width="11.30" height="13.20" fill="#c6c6c6" stroke="#333" stroke-width="0.9"/>
<line x1="718.05" y1="457.90" x2="718.05" y2="470.20" stroke="#333" stroke-width="0.9" />
<line x1="716.75" y1="457.90" x2="719.35" y2="457.90" stroke="#333" stroke-width="0.9" />
<line x1="716.75" y1="470.20" x2="719.35" y2="470.20" stroke="#333" stroke-width="0.9" />
<line x1="621.80" y1="451.10" x2="731.70" y2="451.10" stroke="#111" stroke-width="1.2" />
<text transform="translate(583.40,455.90) rotate(-90)" x="0" y="0" font-size="10" text-anchor="middle" dominant-baseline="central" fill="#2c2c2c" textLength="78.6" lengthAdjust="spacingAndGlyphs">DMI_congruency</text>
<line x1="673.20" y1="4.90" x2="701.00" y2="4.90" stroke="#1a1aff" stroke-width="1.5" />
<line x1="673.20" y1="19.10" x2="701.00" y2="19.10" stroke="#ff22ff" stroke-width="1.5" />
<text x="707.60" y="7.90" font-size="10" text-anchor="start" fill="#333" textLength="22.4" lengthAdjust="spacingAndGlyphs" >Easy</text>
<text x="707.60" y="23.40" font-size="10" text-anchor="start" fill="#333" textLength="21.5" lengthAdjust="spacingAndGlyphs" >Hard</text>
<text transform="translate(754.60,142.90) rotate(90)" x="0" y="0" font-size="12.5" text-anchor="middle" dominant-baseline="central" fill="#333" textLength="50.8" lengthAdjust="spacingAndGlyphs">Monkey G</text>
<text transform="translate(754.60,390.70) rotate(90)" x="0" y="0" font-size="12.5" text-anchor="middle" dominant-baseline="central" fill="#333" textLength="49.8" lengthAdjust="spacingAndGlyphs">Monkey N</text>
</svg></body></html>
